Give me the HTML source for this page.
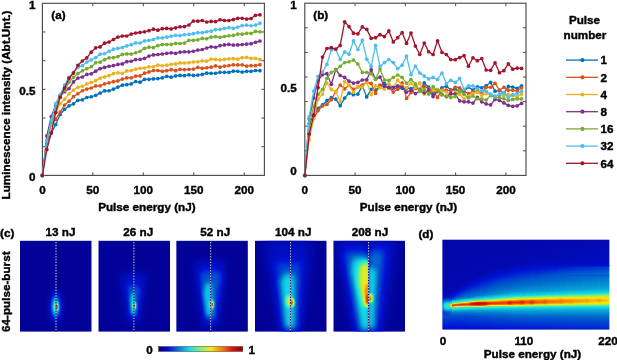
<!DOCTYPE html>
<html><head><meta charset="utf-8"><style>
html,body{margin:0;padding:0;background:#fff;}
svg text{font-family:"Liberation Sans", sans-serif;font-weight:bold;fill:#000;stroke:#000;stroke-width:0.4px;}
</style></head><body>
<svg width="617" height="360" viewBox="0 0 617 360" style="display:block;will-change:transform">
<defs>
<filter id="jet" x="0" y="0" width="1" height="1" color-interpolation-filters="sRGB">
<feComponentTransfer><feFuncR type="table" tableValues="0.01 0 0 0.08 0.5 0.96 0.98 0.88 0.55"/><feFuncG type="table" tableValues="0.01 0.08 0.43 0.88 0.94 0.92 0.5 0.08 0"/><feFuncB type="table" tableValues="0.6 0.84 0.8 0.9 0.47 0.04 0 0.06 0"/></feComponentTransfer>
</filter>
<filter id="bl0" x="-100%" y="-100%" width="300%" height="300%" color-interpolation-filters="sRGB"><feGaussianBlur stdDeviation="2.5"/></filter><filter id="bl1" x="-100%" y="-100%" width="300%" height="300%" color-interpolation-filters="sRGB"><feGaussianBlur stdDeviation="1.6"/></filter><filter id="bl2" x="-100%" y="-100%" width="300%" height="300%" color-interpolation-filters="sRGB"><feGaussianBlur stdDeviation="1"/></filter><filter id="bl3" x="-100%" y="-100%" width="300%" height="300%" color-interpolation-filters="sRGB"><feGaussianBlur stdDeviation="0.7"/></filter><filter id="bl4" x="-100%" y="-100%" width="300%" height="300%" color-interpolation-filters="sRGB"><feGaussianBlur stdDeviation="5"/></filter><filter id="bl5" x="-100%" y="-100%" width="300%" height="300%" color-interpolation-filters="sRGB"><feGaussianBlur stdDeviation="1.5"/></filter><filter id="bl6" x="-100%" y="-100%" width="300%" height="300%" color-interpolation-filters="sRGB"><feGaussianBlur stdDeviation="3"/></filter><filter id="bl7" x="-100%" y="-100%" width="300%" height="300%" color-interpolation-filters="sRGB"><feGaussianBlur stdDeviation="2"/></filter><filter id="bl8" x="-100%" y="-100%" width="300%" height="300%" color-interpolation-filters="sRGB"><feGaussianBlur stdDeviation="6"/></filter><filter id="bl9" x="-100%" y="-100%" width="300%" height="300%" color-interpolation-filters="sRGB"><feGaussianBlur stdDeviation="4.5"/></filter><filter id="bl10" x="-100%" y="-100%" width="300%" height="300%" color-interpolation-filters="sRGB"><feGaussianBlur stdDeviation="1.2"/></filter><filter id="bl11" x="-100%" y="-100%" width="300%" height="300%" color-interpolation-filters="sRGB"><feGaussianBlur stdDeviation="0.8"/></filter><filter id="bl12" x="-100%" y="-100%" width="300%" height="300%" color-interpolation-filters="sRGB"><feGaussianBlur stdDeviation="4"/></filter><filter id="bl13" x="-100%" y="-100%" width="300%" height="300%" color-interpolation-filters="sRGB"><feGaussianBlur stdDeviation="1.8"/></filter><filter id="bl14" x="-100%" y="-100%" width="300%" height="300%" color-interpolation-filters="sRGB"><feGaussianBlur stdDeviation="0.4"/></filter>
<linearGradient id="dg0" x1="0" y1="0" x2="0" y2="1"><stop offset="0.000" stop-color="rgb(8,8,8)"/><stop offset="0.593" stop-color="rgb(11,11,11)"/><stop offset="0.637" stop-color="rgb(22,22,22)"/><stop offset="0.703" stop-color="rgb(72,72,72)"/><stop offset="0.720" stop-color="rgb(80,80,80)"/><stop offset="0.736" stop-color="rgb(83,83,83)"/><stop offset="0.764" stop-color="rgb(75,75,75)"/><stop offset="0.802" stop-color="rgb(48,48,48)"/><stop offset="0.852" stop-color="rgb(51,51,51)"/><stop offset="1.000" stop-color="rgb(26,26,26)"/></linearGradient><linearGradient id="dg1" x1="0" y1="0" x2="0" y2="1"><stop offset="0.000" stop-color="rgb(8,8,8)"/><stop offset="0.593" stop-color="rgb(11,11,11)"/><stop offset="0.632" stop-color="rgb(22,22,22)"/><stop offset="0.654" stop-color="rgb(39,39,39)"/><stop offset="0.703" stop-color="rgb(84,84,84)"/><stop offset="0.720" stop-color="rgb(94,94,94)"/><stop offset="0.736" stop-color="rgb(98,98,98)"/><stop offset="0.764" stop-color="rgb(88,88,88)"/><stop offset="0.808" stop-color="rgb(49,49,49)"/><stop offset="0.852" stop-color="rgb(51,51,51)"/><stop offset="1.000" stop-color="rgb(26,26,26)"/></linearGradient><linearGradient id="dg2" x1="0" y1="0" x2="0" y2="1"><stop offset="0.000" stop-color="rgb(8,8,8)"/><stop offset="0.593" stop-color="rgb(11,11,11)"/><stop offset="0.621" stop-color="rgb(17,17,17)"/><stop offset="0.632" stop-color="rgb(24,24,24)"/><stop offset="0.654" stop-color="rgb(42,42,42)"/><stop offset="0.703" stop-color="rgb(91,91,91)"/><stop offset="0.720" stop-color="rgb(102,102,102)"/><stop offset="0.736" stop-color="rgb(106,106,106)"/><stop offset="0.764" stop-color="rgb(96,96,96)"/><stop offset="0.813" stop-color="rgb(48,48,48)"/><stop offset="0.852" stop-color="rgb(51,51,51)"/><stop offset="1.000" stop-color="rgb(26,26,26)"/></linearGradient><linearGradient id="dg3" x1="0" y1="0" x2="0" y2="1"><stop offset="0.000" stop-color="rgb(8,8,8)"/><stop offset="0.577" stop-color="rgb(11,11,11)"/><stop offset="0.632" stop-color="rgb(24,24,24)"/><stop offset="0.654" stop-color="rgb(42,42,42)"/><stop offset="0.703" stop-color="rgb(91,91,91)"/><stop offset="0.720" stop-color="rgb(102,102,102)"/><stop offset="0.736" stop-color="rgb(106,106,106)"/><stop offset="0.764" stop-color="rgb(96,96,96)"/><stop offset="0.808" stop-color="rgb(54,54,54)"/><stop offset="0.852" stop-color="rgb(51,51,51)"/><stop offset="1.000" stop-color="rgb(26,26,26)"/></linearGradient><linearGradient id="dg4" x1="0" y1="0" x2="0" y2="1"><stop offset="0.000" stop-color="rgb(8,8,8)"/><stop offset="0.560" stop-color="rgb(11,11,11)"/><stop offset="0.604" stop-color="rgb(20,20,20)"/><stop offset="0.654" stop-color="rgb(39,39,39)"/><stop offset="0.665" stop-color="rgb(49,49,49)"/><stop offset="0.687" stop-color="rgb(79,79,79)"/><stop offset="0.703" stop-color="rgb(93,93,93)"/><stop offset="0.709" stop-color="rgb(101,101,101)"/><stop offset="0.720" stop-color="rgb(148,148,148)"/><stop offset="0.731" stop-color="rgb(172,172,172)"/><stop offset="0.742" stop-color="rgb(155,155,155)"/><stop offset="0.753" stop-color="rgb(111,111,111)"/><stop offset="0.758" stop-color="rgb(95,95,95)"/><stop offset="0.802" stop-color="rgb(66,66,66)"/><stop offset="0.852" stop-color="rgb(51,51,51)"/><stop offset="1.000" stop-color="rgb(26,26,26)"/></linearGradient><linearGradient id="dg5" x1="0" y1="0" x2="0" y2="1"><stop offset="0.000" stop-color="rgb(8,8,8)"/><stop offset="0.549" stop-color="rgb(11,11,11)"/><stop offset="0.593" stop-color="rgb(20,20,20)"/><stop offset="0.648" stop-color="rgb(41,41,41)"/><stop offset="0.670" stop-color="rgb(69,69,69)"/><stop offset="0.687" stop-color="rgb(96,96,96)"/><stop offset="0.703" stop-color="rgb(113,113,113)"/><stop offset="0.709" stop-color="rgb(137,137,137)"/><stop offset="0.714" stop-color="rgb(169,169,169)"/><stop offset="0.720" stop-color="rgb(195,195,195)"/><stop offset="0.725" stop-color="rgb(209,209,209)"/><stop offset="0.731" stop-color="rgb(215,215,215)"/><stop offset="0.736" stop-color="rgb(201,201,201)"/><stop offset="0.742" stop-color="rgb(182,182,182)"/><stop offset="0.753" stop-color="rgb(118,118,118)"/><stop offset="0.775" stop-color="rgb(93,93,93)"/><stop offset="0.802" stop-color="rgb(71,71,71)"/><stop offset="0.852" stop-color="rgb(51,51,51)"/><stop offset="1.000" stop-color="rgb(26,26,26)"/></linearGradient><linearGradient id="dg6" x1="0" y1="0" x2="0" y2="1"><stop offset="0.000" stop-color="rgb(8,8,8)"/><stop offset="0.533" stop-color="rgb(11,11,11)"/><stop offset="0.582" stop-color="rgb(21,21,21)"/><stop offset="0.637" stop-color="rgb(43,43,43)"/><stop offset="0.665" stop-color="rgb(65,65,65)"/><stop offset="0.681" stop-color="rgb(92,92,92)"/><stop offset="0.698" stop-color="rgb(110,110,110)"/><stop offset="0.703" stop-color="rgb(120,120,120)"/><stop offset="0.714" stop-color="rgb(184,184,184)"/><stop offset="0.725" stop-color="rgb(216,216,216)"/><stop offset="0.731" stop-color="rgb(209,209,209)"/><stop offset="0.736" stop-color="rgb(195,195,195)"/><stop offset="0.747" stop-color="rgb(135,135,135)"/><stop offset="0.753" stop-color="rgb(113,113,113)"/><stop offset="0.797" stop-color="rgb(72,72,72)"/><stop offset="0.846" stop-color="rgb(52,52,52)"/><stop offset="1.000" stop-color="rgb(26,26,26)"/></linearGradient><linearGradient id="dg7" x1="0" y1="0" x2="0" y2="1"><stop offset="0.000" stop-color="rgb(8,8,8)"/><stop offset="0.522" stop-color="rgb(11,11,11)"/><stop offset="0.566" stop-color="rgb(20,20,20)"/><stop offset="0.621" stop-color="rgb(40,40,40)"/><stop offset="0.665" stop-color="rgb(71,71,71)"/><stop offset="0.681" stop-color="rgb(96,96,96)"/><stop offset="0.698" stop-color="rgb(113,113,113)"/><stop offset="0.703" stop-color="rgb(136,136,136)"/><stop offset="0.714" stop-color="rgb(194,194,194)"/><stop offset="0.725" stop-color="rgb(218,218,218)"/><stop offset="0.736" stop-color="rgb(189,189,189)"/><stop offset="0.747" stop-color="rgb(127,127,127)"/><stop offset="0.753" stop-color="rgb(112,112,112)"/><stop offset="0.797" stop-color="rgb(72,72,72)"/><stop offset="0.846" stop-color="rgb(51,51,51)"/><stop offset="1.000" stop-color="rgb(26,26,26)"/></linearGradient><linearGradient id="dg8" x1="0" y1="0" x2="0" y2="1"><stop offset="0.000" stop-color="rgb(8,8,8)"/><stop offset="0.505" stop-color="rgb(11,11,11)"/><stop offset="0.555" stop-color="rgb(21,21,21)"/><stop offset="0.610" stop-color="rgb(41,41,41)"/><stop offset="0.659" stop-color="rgb(68,68,68)"/><stop offset="0.698" stop-color="rgb(120,120,120)"/><stop offset="0.709" stop-color="rgb(177,177,177)"/><stop offset="0.714" stop-color="rgb(198,198,198)"/><stop offset="0.720" stop-color="rgb(211,211,211)"/><stop offset="0.725" stop-color="rgb(214,214,214)"/><stop offset="0.731" stop-color="rgb(201,201,201)"/><stop offset="0.736" stop-color="rgb(182,182,182)"/><stop offset="0.747" stop-color="rgb(121,121,121)"/><stop offset="0.753" stop-color="rgb(111,111,111)"/><stop offset="0.769" stop-color="rgb(93,93,93)"/><stop offset="0.797" stop-color="rgb(71,71,71)"/><stop offset="0.846" stop-color="rgb(52,52,52)"/><stop offset="1.000" stop-color="rgb(26,26,26)"/></linearGradient><linearGradient id="dg9" x1="0" y1="0" x2="0" y2="1"><stop offset="0.000" stop-color="rgb(8,8,8)"/><stop offset="0.495" stop-color="rgb(11,11,11)"/><stop offset="0.544" stop-color="rgb(22,22,22)"/><stop offset="0.599" stop-color="rgb(41,41,41)"/><stop offset="0.654" stop-color="rgb(66,66,66)"/><stop offset="0.692" stop-color="rgb(114,114,114)"/><stop offset="0.698" stop-color="rgb(132,132,132)"/><stop offset="0.709" stop-color="rgb(186,186,186)"/><stop offset="0.720" stop-color="rgb(215,215,215)"/><stop offset="0.725" stop-color="rgb(210,210,210)"/><stop offset="0.731" stop-color="rgb(198,198,198)"/><stop offset="0.736" stop-color="rgb(175,175,175)"/><stop offset="0.747" stop-color="rgb(117,117,117)"/><stop offset="0.769" stop-color="rgb(92,92,92)"/><stop offset="0.791" stop-color="rgb(75,75,75)"/><stop offset="0.846" stop-color="rgb(52,52,52)"/><stop offset="1.000" stop-color="rgb(26,26,26)"/></linearGradient><linearGradient id="dg10" x1="0" y1="0" x2="0" y2="1"><stop offset="0.000" stop-color="rgb(8,8,8)"/><stop offset="0.478" stop-color="rgb(11,11,11)"/><stop offset="0.533" stop-color="rgb(22,22,22)"/><stop offset="0.593" stop-color="rgb(43,43,43)"/><stop offset="0.654" stop-color="rgb(70,70,70)"/><stop offset="0.692" stop-color="rgb(117,117,117)"/><stop offset="0.709" stop-color="rgb(193,193,193)"/><stop offset="0.720" stop-color="rgb(218,218,218)"/><stop offset="0.731" stop-color="rgb(195,195,195)"/><stop offset="0.747" stop-color="rgb(116,116,116)"/><stop offset="0.764" stop-color="rgb(97,97,97)"/><stop offset="0.791" stop-color="rgb(74,74,74)"/><stop offset="0.846" stop-color="rgb(52,52,52)"/><stop offset="1.000" stop-color="rgb(26,26,26)"/></linearGradient><linearGradient id="dg11" x1="0" y1="0" x2="0" y2="1"><stop offset="0.000" stop-color="rgb(8,8,8)"/><stop offset="0.467" stop-color="rgb(11,11,11)"/><stop offset="0.522" stop-color="rgb(22,22,22)"/><stop offset="0.648" stop-color="rgb(67,67,67)"/><stop offset="0.687" stop-color="rgb(114,114,114)"/><stop offset="0.692" stop-color="rgb(127,127,127)"/><stop offset="0.709" stop-color="rgb(196,196,196)"/><stop offset="0.720" stop-color="rgb(217,217,217)"/><stop offset="0.731" stop-color="rgb(193,193,193)"/><stop offset="0.742" stop-color="rgb(138,138,138)"/><stop offset="0.747" stop-color="rgb(115,115,115)"/><stop offset="0.764" stop-color="rgb(96,96,96)"/><stop offset="0.791" stop-color="rgb(74,74,74)"/><stop offset="0.846" stop-color="rgb(52,52,52)"/><stop offset="1.000" stop-color="rgb(26,26,26)"/></linearGradient><linearGradient id="dg12" x1="0" y1="0" x2="0" y2="1"><stop offset="0.000" stop-color="rgb(8,8,8)"/><stop offset="0.456" stop-color="rgb(11,11,11)"/><stop offset="0.511" stop-color="rgb(22,22,22)"/><stop offset="0.648" stop-color="rgb(71,71,71)"/><stop offset="0.687" stop-color="rgb(117,117,117)"/><stop offset="0.692" stop-color="rgb(135,135,135)"/><stop offset="0.703" stop-color="rgb(183,183,183)"/><stop offset="0.709" stop-color="rgb(199,199,199)"/><stop offset="0.714" stop-color="rgb(211,211,211)"/><stop offset="0.720" stop-color="rgb(215,215,215)"/><stop offset="0.731" stop-color="rgb(190,190,190)"/><stop offset="0.742" stop-color="rgb(135,135,135)"/><stop offset="0.747" stop-color="rgb(115,115,115)"/><stop offset="0.764" stop-color="rgb(95,95,95)"/><stop offset="0.791" stop-color="rgb(74,74,74)"/><stop offset="0.846" stop-color="rgb(52,52,52)"/><stop offset="1.000" stop-color="rgb(26,26,26)"/></linearGradient><linearGradient id="dg13" x1="0" y1="0" x2="0" y2="1"><stop offset="0.000" stop-color="rgb(8,8,8)"/><stop offset="0.445" stop-color="rgb(11,11,11)"/><stop offset="0.500" stop-color="rgb(22,22,22)"/><stop offset="0.643" stop-color="rgb(68,68,68)"/><stop offset="0.687" stop-color="rgb(121,121,121)"/><stop offset="0.703" stop-color="rgb(189,189,189)"/><stop offset="0.714" stop-color="rgb(214,214,214)"/><stop offset="0.720" stop-color="rgb(213,213,213)"/><stop offset="0.731" stop-color="rgb(186,186,186)"/><stop offset="0.742" stop-color="rgb(132,132,132)"/><stop offset="0.747" stop-color="rgb(115,115,115)"/><stop offset="0.764" stop-color="rgb(94,94,94)"/><stop offset="0.791" stop-color="rgb(74,74,74)"/><stop offset="0.852" stop-color="rgb(51,51,51)"/><stop offset="1.000" stop-color="rgb(27,27,27)"/></linearGradient><linearGradient id="dg14" x1="0" y1="0" x2="0" y2="1"><stop offset="0.000" stop-color="rgb(8,8,8)"/><stop offset="0.434" stop-color="rgb(11,11,11)"/><stop offset="0.495" stop-color="rgb(24,24,24)"/><stop offset="0.643" stop-color="rgb(72,72,72)"/><stop offset="0.681" stop-color="rgb(116,116,116)"/><stop offset="0.687" stop-color="rgb(129,129,129)"/><stop offset="0.703" stop-color="rgb(194,194,194)"/><stop offset="0.714" stop-color="rgb(216,216,216)"/><stop offset="0.720" stop-color="rgb(211,211,211)"/><stop offset="0.725" stop-color="rgb(200,200,200)"/><stop offset="0.731" stop-color="rgb(182,182,182)"/><stop offset="0.742" stop-color="rgb(130,130,130)"/><stop offset="0.747" stop-color="rgb(114,114,114)"/><stop offset="0.764" stop-color="rgb(94,94,94)"/><stop offset="0.791" stop-color="rgb(74,74,74)"/><stop offset="0.852" stop-color="rgb(52,52,52)"/><stop offset="1.000" stop-color="rgb(27,27,27)"/></linearGradient><linearGradient id="dg15" x1="0" y1="0" x2="0" y2="1"><stop offset="0.000" stop-color="rgb(8,8,8)"/><stop offset="0.423" stop-color="rgb(11,11,11)"/><stop offset="0.484" stop-color="rgb(24,24,24)"/><stop offset="0.637" stop-color="rgb(69,69,69)"/><stop offset="0.665" stop-color="rgb(97,97,97)"/><stop offset="0.681" stop-color="rgb(119,119,119)"/><stop offset="0.703" stop-color="rgb(196,196,196)"/><stop offset="0.714" stop-color="rgb(218,218,218)"/><stop offset="0.725" stop-color="rgb(198,198,198)"/><stop offset="0.731" stop-color="rgb(179,179,179)"/><stop offset="0.742" stop-color="rgb(129,129,129)"/><stop offset="0.747" stop-color="rgb(114,114,114)"/><stop offset="0.764" stop-color="rgb(93,93,93)"/><stop offset="0.791" stop-color="rgb(74,74,74)"/><stop offset="0.852" stop-color="rgb(52,52,52)"/><stop offset="1.000" stop-color="rgb(27,27,27)"/></linearGradient><linearGradient id="dg16" x1="0" y1="0" x2="0" y2="1"><stop offset="0.000" stop-color="rgb(8,8,8)"/><stop offset="0.418" stop-color="rgb(12,12,12)"/><stop offset="0.473" stop-color="rgb(23,23,23)"/><stop offset="0.632" stop-color="rgb(68,68,68)"/><stop offset="0.659" stop-color="rgb(93,93,93)"/><stop offset="0.681" stop-color="rgb(124,124,124)"/><stop offset="0.698" stop-color="rgb(183,183,183)"/><stop offset="0.703" stop-color="rgb(199,199,199)"/><stop offset="0.714" stop-color="rgb(218,218,218)"/><stop offset="0.725" stop-color="rgb(197,197,197)"/><stop offset="0.742" stop-color="rgb(127,127,127)"/><stop offset="0.747" stop-color="rgb(114,114,114)"/><stop offset="0.764" stop-color="rgb(93,93,93)"/><stop offset="0.786" stop-color="rgb(77,77,77)"/><stop offset="0.852" stop-color="rgb(52,52,52)"/><stop offset="1.000" stop-color="rgb(27,27,27)"/></linearGradient><linearGradient id="dg17" x1="0" y1="0" x2="0" y2="1"><stop offset="0.000" stop-color="rgb(8,8,8)"/><stop offset="0.407" stop-color="rgb(11,11,11)"/><stop offset="0.467" stop-color="rgb(24,24,24)"/><stop offset="0.626" stop-color="rgb(68,68,68)"/><stop offset="0.659" stop-color="rgb(95,95,95)"/><stop offset="0.676" stop-color="rgb(117,117,117)"/><stop offset="0.681" stop-color="rgb(130,130,130)"/><stop offset="0.698" stop-color="rgb(188,188,188)"/><stop offset="0.709" stop-color="rgb(211,211,211)"/><stop offset="0.714" stop-color="rgb(216,216,216)"/><stop offset="0.725" stop-color="rgb(196,196,196)"/><stop offset="0.742" stop-color="rgb(126,126,126)"/><stop offset="0.747" stop-color="rgb(114,114,114)"/><stop offset="0.764" stop-color="rgb(92,92,92)"/><stop offset="0.786" stop-color="rgb(77,77,77)"/><stop offset="0.852" stop-color="rgb(52,52,52)"/><stop offset="1.000" stop-color="rgb(27,27,27)"/></linearGradient><linearGradient id="dg18" x1="0" y1="0" x2="0" y2="1"><stop offset="0.000" stop-color="rgb(8,8,8)"/><stop offset="0.396" stop-color="rgb(11,11,11)"/><stop offset="0.456" stop-color="rgb(24,24,24)"/><stop offset="0.626" stop-color="rgb(69,69,69)"/><stop offset="0.654" stop-color="rgb(91,91,91)"/><stop offset="0.676" stop-color="rgb(120,120,120)"/><stop offset="0.687" stop-color="rgb(154,154,154)"/><stop offset="0.698" stop-color="rgb(192,192,192)"/><stop offset="0.709" stop-color="rgb(213,213,213)"/><stop offset="0.714" stop-color="rgb(214,214,214)"/><stop offset="0.725" stop-color="rgb(195,195,195)"/><stop offset="0.742" stop-color="rgb(125,125,125)"/><stop offset="0.747" stop-color="rgb(113,113,113)"/><stop offset="0.764" stop-color="rgb(92,92,92)"/><stop offset="0.786" stop-color="rgb(77,77,77)"/><stop offset="0.852" stop-color="rgb(53,53,53)"/><stop offset="1.000" stop-color="rgb(27,27,27)"/></linearGradient><linearGradient id="dg19" x1="0" y1="0" x2="0" y2="1"><stop offset="0.000" stop-color="rgb(8,8,8)"/><stop offset="0.390" stop-color="rgb(12,12,12)"/><stop offset="0.621" stop-color="rgb(69,69,69)"/><stop offset="0.654" stop-color="rgb(93,93,93)"/><stop offset="0.670" stop-color="rgb(116,116,116)"/><stop offset="0.676" stop-color="rgb(125,125,125)"/><stop offset="0.698" stop-color="rgb(195,195,195)"/><stop offset="0.709" stop-color="rgb(214,214,214)"/><stop offset="0.714" stop-color="rgb(213,213,213)"/><stop offset="0.725" stop-color="rgb(193,193,193)"/><stop offset="0.742" stop-color="rgb(124,124,124)"/><stop offset="0.747" stop-color="rgb(113,113,113)"/><stop offset="0.758" stop-color="rgb(97,97,97)"/><stop offset="0.786" stop-color="rgb(77,77,77)"/><stop offset="0.852" stop-color="rgb(53,53,53)"/><stop offset="1.000" stop-color="rgb(28,28,28)"/></linearGradient><linearGradient id="dg20" x1="0" y1="0" x2="0" y2="1"><stop offset="0.000" stop-color="rgb(8,8,8)"/><stop offset="0.379" stop-color="rgb(11,11,11)"/><stop offset="0.621" stop-color="rgb(69,69,69)"/><stop offset="0.654" stop-color="rgb(94,94,94)"/><stop offset="0.670" stop-color="rgb(119,119,119)"/><stop offset="0.676" stop-color="rgb(131,131,131)"/><stop offset="0.698" stop-color="rgb(197,197,197)"/><stop offset="0.709" stop-color="rgb(216,216,216)"/><stop offset="0.714" stop-color="rgb(211,211,211)"/><stop offset="0.725" stop-color="rgb(190,190,190)"/><stop offset="0.742" stop-color="rgb(123,123,123)"/><stop offset="0.747" stop-color="rgb(113,113,113)"/><stop offset="0.758" stop-color="rgb(96,96,96)"/><stop offset="0.786" stop-color="rgb(77,77,77)"/><stop offset="0.852" stop-color="rgb(53,53,53)"/><stop offset="1.000" stop-color="rgb(28,28,28)"/></linearGradient><linearGradient id="dg21" x1="0" y1="0" x2="0" y2="1"><stop offset="0.000" stop-color="rgb(8,8,8)"/><stop offset="0.374" stop-color="rgb(12,12,12)"/><stop offset="0.615" stop-color="rgb(69,69,69)"/><stop offset="0.648" stop-color="rgb(92,92,92)"/><stop offset="0.670" stop-color="rgb(122,122,122)"/><stop offset="0.692" stop-color="rgb(186,186,186)"/><stop offset="0.698" stop-color="rgb(199,199,199)"/><stop offset="0.709" stop-color="rgb(217,217,217)"/><stop offset="0.720" stop-color="rgb(201,201,201)"/><stop offset="0.725" stop-color="rgb(188,188,188)"/><stop offset="0.742" stop-color="rgb(123,123,123)"/><stop offset="0.758" stop-color="rgb(95,95,95)"/><stop offset="0.764" stop-color="rgb(91,91,91)"/><stop offset="0.791" stop-color="rgb(74,74,74)"/><stop offset="0.852" stop-color="rgb(54,54,54)"/><stop offset="1.000" stop-color="rgb(28,28,28)"/></linearGradient><linearGradient id="dg22" x1="0" y1="0" x2="0" y2="1"><stop offset="0.000" stop-color="rgb(8,8,8)"/><stop offset="0.363" stop-color="rgb(11,11,11)"/><stop offset="0.615" stop-color="rgb(70,70,70)"/><stop offset="0.648" stop-color="rgb(93,93,93)"/><stop offset="0.665" stop-color="rgb(117,117,117)"/><stop offset="0.670" stop-color="rgb(126,126,126)"/><stop offset="0.692" stop-color="rgb(189,189,189)"/><stop offset="0.709" stop-color="rgb(218,218,218)"/><stop offset="0.720" stop-color="rgb(200,200,200)"/><stop offset="0.725" stop-color="rgb(186,186,186)"/><stop offset="0.742" stop-color="rgb(122,122,122)"/><stop offset="0.758" stop-color="rgb(94,94,94)"/><stop offset="0.791" stop-color="rgb(74,74,74)"/><stop offset="0.852" stop-color="rgb(54,54,54)"/><stop offset="1.000" stop-color="rgb(28,28,28)"/></linearGradient><linearGradient id="dg23" x1="0" y1="0" x2="0" y2="1"><stop offset="0.000" stop-color="rgb(8,8,8)"/><stop offset="0.357" stop-color="rgb(12,12,12)"/><stop offset="0.610" stop-color="rgb(70,70,70)"/><stop offset="0.648" stop-color="rgb(94,94,94)"/><stop offset="0.670" stop-color="rgb(131,131,131)"/><stop offset="0.692" stop-color="rgb(193,193,193)"/><stop offset="0.709" stop-color="rgb(216,216,216)"/><stop offset="0.720" stop-color="rgb(200,200,200)"/><stop offset="0.725" stop-color="rgb(184,184,184)"/><stop offset="0.731" stop-color="rgb(160,160,160)"/><stop offset="0.742" stop-color="rgb(122,122,122)"/><stop offset="0.758" stop-color="rgb(94,94,94)"/><stop offset="0.791" stop-color="rgb(75,75,75)"/><stop offset="0.852" stop-color="rgb(54,54,54)"/><stop offset="1.000" stop-color="rgb(28,28,28)"/></linearGradient><linearGradient id="dg24" x1="0" y1="0" x2="0" y2="1"><stop offset="0.000" stop-color="rgb(8,8,8)"/><stop offset="0.346" stop-color="rgb(11,11,11)"/><stop offset="0.495" stop-color="rgb(47,47,47)"/><stop offset="0.610" stop-color="rgb(70,70,70)"/><stop offset="0.648" stop-color="rgb(96,96,96)"/><stop offset="0.665" stop-color="rgb(123,123,123)"/><stop offset="0.676" stop-color="rgb(149,149,149)"/><stop offset="0.692" stop-color="rgb(196,196,196)"/><stop offset="0.703" stop-color="rgb(212,212,212)"/><stop offset="0.709" stop-color="rgb(215,215,215)"/><stop offset="0.720" stop-color="rgb(199,199,199)"/><stop offset="0.742" stop-color="rgb(122,122,122)"/><stop offset="0.758" stop-color="rgb(94,94,94)"/><stop offset="0.791" stop-color="rgb(75,75,75)"/><stop offset="0.852" stop-color="rgb(55,55,55)"/><stop offset="1.000" stop-color="rgb(28,28,28)"/></linearGradient><linearGradient id="dg25" x1="0" y1="0" x2="0" y2="1"><stop offset="0.000" stop-color="rgb(8,8,8)"/><stop offset="0.341" stop-color="rgb(11,11,11)"/><stop offset="0.489" stop-color="rgb(47,47,47)"/><stop offset="0.604" stop-color="rgb(70,70,70)"/><stop offset="0.643" stop-color="rgb(93,93,93)"/><stop offset="0.648" stop-color="rgb(99,99,99)"/><stop offset="0.665" stop-color="rgb(126,126,126)"/><stop offset="0.692" stop-color="rgb(197,197,197)"/><stop offset="0.703" stop-color="rgb(213,213,213)"/><stop offset="0.709" stop-color="rgb(214,214,214)"/><stop offset="0.720" stop-color="rgb(198,198,198)"/><stop offset="0.731" stop-color="rgb(157,157,157)"/><stop offset="0.742" stop-color="rgb(122,122,122)"/><stop offset="0.758" stop-color="rgb(94,94,94)"/><stop offset="0.791" stop-color="rgb(75,75,75)"/><stop offset="0.852" stop-color="rgb(55,55,55)"/><stop offset="1.000" stop-color="rgb(29,29,29)"/></linearGradient><linearGradient id="dg26" x1="0" y1="0" x2="0" y2="1"><stop offset="0.000" stop-color="rgb(8,8,8)"/><stop offset="0.335" stop-color="rgb(12,12,12)"/><stop offset="0.484" stop-color="rgb(48,48,48)"/><stop offset="0.604" stop-color="rgb(71,71,71)"/><stop offset="0.643" stop-color="rgb(94,94,94)"/><stop offset="0.665" stop-color="rgb(131,131,131)"/><stop offset="0.692" stop-color="rgb(199,199,199)"/><stop offset="0.703" stop-color="rgb(214,214,214)"/><stop offset="0.709" stop-color="rgb(213,213,213)"/><stop offset="0.720" stop-color="rgb(198,198,198)"/><stop offset="0.731" stop-color="rgb(157,157,157)"/><stop offset="0.742" stop-color="rgb(122,122,122)"/><stop offset="0.758" stop-color="rgb(93,93,93)"/><stop offset="0.791" stop-color="rgb(75,75,75)"/><stop offset="0.857" stop-color="rgb(54,54,54)"/><stop offset="1.000" stop-color="rgb(29,29,29)"/></linearGradient><linearGradient id="dg27" x1="0" y1="0" x2="0" y2="1"><stop offset="0.000" stop-color="rgb(8,8,8)"/><stop offset="0.330" stop-color="rgb(12,12,12)"/><stop offset="0.478" stop-color="rgb(48,48,48)"/><stop offset="0.604" stop-color="rgb(72,72,72)"/><stop offset="0.643" stop-color="rgb(96,96,96)"/><stop offset="0.665" stop-color="rgb(135,135,135)"/><stop offset="0.692" stop-color="rgb(200,200,200)"/><stop offset="0.703" stop-color="rgb(215,215,215)"/><stop offset="0.709" stop-color="rgb(212,212,212)"/><stop offset="0.720" stop-color="rgb(197,197,197)"/><stop offset="0.731" stop-color="rgb(156,156,156)"/><stop offset="0.742" stop-color="rgb(122,122,122)"/><stop offset="0.758" stop-color="rgb(93,93,93)"/><stop offset="0.791" stop-color="rgb(75,75,75)"/><stop offset="0.857" stop-color="rgb(54,54,54)"/><stop offset="1.000" stop-color="rgb(29,29,29)"/></linearGradient><linearGradient id="dg28" x1="0" y1="0" x2="0" y2="1"><stop offset="0.000" stop-color="rgb(8,8,8)"/><stop offset="0.319" stop-color="rgb(11,11,11)"/><stop offset="0.478" stop-color="rgb(49,49,49)"/><stop offset="0.599" stop-color="rgb(71,71,71)"/><stop offset="0.643" stop-color="rgb(98,98,98)"/><stop offset="0.665" stop-color="rgb(139,139,139)"/><stop offset="0.687" stop-color="rgb(192,192,192)"/><stop offset="0.703" stop-color="rgb(216,216,216)"/><stop offset="0.720" stop-color="rgb(197,197,197)"/><stop offset="0.731" stop-color="rgb(155,155,155)"/><stop offset="0.742" stop-color="rgb(122,122,122)"/><stop offset="0.758" stop-color="rgb(93,93,93)"/><stop offset="0.791" stop-color="rgb(76,76,76)"/><stop offset="0.857" stop-color="rgb(55,55,55)"/><stop offset="1.000" stop-color="rgb(29,29,29)"/></linearGradient><linearGradient id="dg29" x1="0" y1="0" x2="0" y2="1"><stop offset="0.000" stop-color="rgb(8,8,8)"/><stop offset="0.313" stop-color="rgb(11,11,11)"/><stop offset="0.473" stop-color="rgb(49,49,49)"/><stop offset="0.599" stop-color="rgb(73,73,73)"/><stop offset="0.637" stop-color="rgb(93,93,93)"/><stop offset="0.659" stop-color="rgb(131,131,131)"/><stop offset="0.670" stop-color="rgb(154,154,154)"/><stop offset="0.687" stop-color="rgb(195,195,195)"/><stop offset="0.703" stop-color="rgb(217,217,217)"/><stop offset="0.720" stop-color="rgb(195,195,195)"/><stop offset="0.731" stop-color="rgb(154,154,154)"/><stop offset="0.742" stop-color="rgb(122,122,122)"/><stop offset="0.753" stop-color="rgb(100,100,100)"/><stop offset="0.758" stop-color="rgb(93,93,93)"/><stop offset="0.786" stop-color="rgb(78,78,78)"/><stop offset="0.857" stop-color="rgb(55,55,55)"/><stop offset="1.000" stop-color="rgb(29,29,29)"/></linearGradient><linearGradient id="dg30" x1="0" y1="0" x2="0" y2="1"><stop offset="0.000" stop-color="rgb(8,8,8)"/><stop offset="0.308" stop-color="rgb(11,11,11)"/><stop offset="0.467" stop-color="rgb(49,49,49)"/><stop offset="0.593" stop-color="rgb(72,72,72)"/><stop offset="0.637" stop-color="rgb(94,94,94)"/><stop offset="0.670" stop-color="rgb(157,157,157)"/><stop offset="0.687" stop-color="rgb(197,197,197)"/><stop offset="0.703" stop-color="rgb(217,217,217)"/><stop offset="0.720" stop-color="rgb(194,194,194)"/><stop offset="0.731" stop-color="rgb(154,154,154)"/><stop offset="0.742" stop-color="rgb(122,122,122)"/><stop offset="0.753" stop-color="rgb(100,100,100)"/><stop offset="0.758" stop-color="rgb(93,93,93)"/><stop offset="0.786" stop-color="rgb(78,78,78)"/><stop offset="0.857" stop-color="rgb(55,55,55)"/><stop offset="1.000" stop-color="rgb(29,29,29)"/></linearGradient><linearGradient id="dg31" x1="0" y1="0" x2="0" y2="1"><stop offset="0.000" stop-color="rgb(8,8,8)"/><stop offset="0.302" stop-color="rgb(11,11,11)"/><stop offset="0.467" stop-color="rgb(50,50,50)"/><stop offset="0.593" stop-color="rgb(73,73,73)"/><stop offset="0.637" stop-color="rgb(97,97,97)"/><stop offset="0.670" stop-color="rgb(159,159,159)"/><stop offset="0.687" stop-color="rgb(199,199,199)"/><stop offset="0.703" stop-color="rgb(216,216,216)"/><stop offset="0.720" stop-color="rgb(192,192,192)"/><stop offset="0.731" stop-color="rgb(153,153,153)"/><stop offset="0.742" stop-color="rgb(122,122,122)"/><stop offset="0.753" stop-color="rgb(99,99,99)"/><stop offset="0.758" stop-color="rgb(93,93,93)"/><stop offset="0.786" stop-color="rgb(78,78,78)"/><stop offset="0.857" stop-color="rgb(56,56,56)"/><stop offset="1.000" stop-color="rgb(30,30,30)"/></linearGradient><linearGradient id="dg32" x1="0" y1="0" x2="0" y2="1"><stop offset="0.000" stop-color="rgb(8,8,8)"/><stop offset="0.297" stop-color="rgb(11,11,11)"/><stop offset="0.462" stop-color="rgb(49,49,49)"/><stop offset="0.588" stop-color="rgb(72,72,72)"/><stop offset="0.632" stop-color="rgb(93,93,93)"/><stop offset="0.637" stop-color="rgb(100,100,100)"/><stop offset="0.665" stop-color="rgb(152,152,152)"/><stop offset="0.687" stop-color="rgb(200,200,200)"/><stop offset="0.698" stop-color="rgb(213,213,213)"/><stop offset="0.703" stop-color="rgb(215,215,215)"/><stop offset="0.714" stop-color="rgb(202,202,202)"/><stop offset="0.720" stop-color="rgb(191,191,191)"/><stop offset="0.731" stop-color="rgb(152,152,152)"/><stop offset="0.742" stop-color="rgb(123,123,123)"/><stop offset="0.753" stop-color="rgb(99,99,99)"/><stop offset="0.758" stop-color="rgb(93,93,93)"/><stop offset="0.786" stop-color="rgb(78,78,78)"/><stop offset="0.857" stop-color="rgb(56,56,56)"/><stop offset="1.000" stop-color="rgb(30,30,30)"/></linearGradient><linearGradient id="dg33" x1="0" y1="0" x2="0" y2="1"><stop offset="0.000" stop-color="rgb(8,8,8)"/><stop offset="0.291" stop-color="rgb(11,11,11)"/><stop offset="0.456" stop-color="rgb(49,49,49)"/><stop offset="0.588" stop-color="rgb(73,73,73)"/><stop offset="0.632" stop-color="rgb(94,94,94)"/><stop offset="0.665" stop-color="rgb(154,154,154)"/><stop offset="0.687" stop-color="rgb(201,201,201)"/><stop offset="0.698" stop-color="rgb(214,214,214)"/><stop offset="0.703" stop-color="rgb(214,214,214)"/><stop offset="0.714" stop-color="rgb(202,202,202)"/><stop offset="0.720" stop-color="rgb(190,190,190)"/><stop offset="0.731" stop-color="rgb(152,152,152)"/><stop offset="0.742" stop-color="rgb(123,123,123)"/><stop offset="0.753" stop-color="rgb(98,98,98)"/><stop offset="0.758" stop-color="rgb(92,92,92)"/><stop offset="0.786" stop-color="rgb(79,79,79)"/><stop offset="0.857" stop-color="rgb(56,56,56)"/><stop offset="1.000" stop-color="rgb(30,30,30)"/></linearGradient><linearGradient id="dg34" x1="0" y1="0" x2="0" y2="1"><stop offset="0.000" stop-color="rgb(8,8,8)"/><stop offset="0.286" stop-color="rgb(11,11,11)"/><stop offset="0.456" stop-color="rgb(50,50,50)"/><stop offset="0.582" stop-color="rgb(73,73,73)"/><stop offset="0.632" stop-color="rgb(96,96,96)"/><stop offset="0.665" stop-color="rgb(157,157,157)"/><stop offset="0.681" stop-color="rgb(194,194,194)"/><stop offset="0.698" stop-color="rgb(214,214,214)"/><stop offset="0.703" stop-color="rgb(213,213,213)"/><stop offset="0.714" stop-color="rgb(201,201,201)"/><stop offset="0.720" stop-color="rgb(188,188,188)"/><stop offset="0.731" stop-color="rgb(152,152,152)"/><stop offset="0.742" stop-color="rgb(123,123,123)"/><stop offset="0.753" stop-color="rgb(97,97,97)"/><stop offset="0.758" stop-color="rgb(92,92,92)"/><stop offset="0.786" stop-color="rgb(79,79,79)"/><stop offset="0.863" stop-color="rgb(55,55,55)"/><stop offset="1.000" stop-color="rgb(30,30,30)"/></linearGradient><linearGradient id="dg35" x1="0" y1="0" x2="0" y2="1"><stop offset="0.000" stop-color="rgb(8,8,8)"/><stop offset="0.280" stop-color="rgb(11,11,11)"/><stop offset="0.451" stop-color="rgb(50,50,50)"/><stop offset="0.582" stop-color="rgb(74,74,74)"/><stop offset="0.626" stop-color="rgb(93,93,93)"/><stop offset="0.632" stop-color="rgb(99,99,99)"/><stop offset="0.665" stop-color="rgb(159,159,159)"/><stop offset="0.681" stop-color="rgb(196,196,196)"/><stop offset="0.698" stop-color="rgb(215,215,215)"/><stop offset="0.714" stop-color="rgb(201,201,201)"/><stop offset="0.720" stop-color="rgb(187,187,187)"/><stop offset="0.731" stop-color="rgb(151,151,151)"/><stop offset="0.742" stop-color="rgb(123,123,123)"/><stop offset="0.753" stop-color="rgb(97,97,97)"/><stop offset="0.758" stop-color="rgb(92,92,92)"/><stop offset="0.786" stop-color="rgb(79,79,79)"/><stop offset="0.863" stop-color="rgb(56,56,56)"/><stop offset="1.000" stop-color="rgb(30,30,30)"/></linearGradient><linearGradient id="dg36" x1="0" y1="0" x2="0" y2="1"><stop offset="0.000" stop-color="rgb(8,8,8)"/><stop offset="0.275" stop-color="rgb(11,11,11)"/><stop offset="0.451" stop-color="rgb(51,51,51)"/><stop offset="0.577" stop-color="rgb(73,73,73)"/><stop offset="0.626" stop-color="rgb(94,94,94)"/><stop offset="0.665" stop-color="rgb(162,162,162)"/><stop offset="0.681" stop-color="rgb(198,198,198)"/><stop offset="0.698" stop-color="rgb(216,216,216)"/><stop offset="0.714" stop-color="rgb(201,201,201)"/><stop offset="0.731" stop-color="rgb(151,151,151)"/><stop offset="0.742" stop-color="rgb(123,123,123)"/><stop offset="0.753" stop-color="rgb(96,96,96)"/><stop offset="0.758" stop-color="rgb(92,92,92)"/><stop offset="0.786" stop-color="rgb(79,79,79)"/><stop offset="0.863" stop-color="rgb(56,56,56)"/><stop offset="1.000" stop-color="rgb(30,30,30)"/></linearGradient><linearGradient id="dg37" x1="0" y1="0" x2="0" y2="1"><stop offset="0.000" stop-color="rgb(8,8,8)"/><stop offset="0.275" stop-color="rgb(12,12,12)"/><stop offset="0.445" stop-color="rgb(50,50,50)"/><stop offset="0.577" stop-color="rgb(74,74,74)"/><stop offset="0.626" stop-color="rgb(94,94,94)"/><stop offset="0.643" stop-color="rgb(127,127,127)"/><stop offset="0.665" stop-color="rgb(165,165,165)"/><stop offset="0.681" stop-color="rgb(199,199,199)"/><stop offset="0.698" stop-color="rgb(216,216,216)"/><stop offset="0.714" stop-color="rgb(200,200,200)"/><stop offset="0.731" stop-color="rgb(151,151,151)"/><stop offset="0.753" stop-color="rgb(96,96,96)"/><stop offset="0.758" stop-color="rgb(92,92,92)"/><stop offset="0.786" stop-color="rgb(79,79,79)"/><stop offset="0.863" stop-color="rgb(56,56,56)"/><stop offset="1.000" stop-color="rgb(31,31,31)"/></linearGradient><linearGradient id="dg38" x1="0" y1="0" x2="0" y2="1"><stop offset="0.000" stop-color="rgb(8,8,8)"/><stop offset="0.269" stop-color="rgb(12,12,12)"/><stop offset="0.445" stop-color="rgb(51,51,51)"/><stop offset="0.577" stop-color="rgb(74,74,74)"/><stop offset="0.626" stop-color="rgb(95,95,95)"/><stop offset="0.681" stop-color="rgb(199,199,199)"/><stop offset="0.698" stop-color="rgb(215,215,215)"/><stop offset="0.714" stop-color="rgb(199,199,199)"/><stop offset="0.725" stop-color="rgb(164,164,164)"/><stop offset="0.753" stop-color="rgb(95,95,95)"/><stop offset="0.786" stop-color="rgb(79,79,79)"/><stop offset="0.863" stop-color="rgb(56,56,56)"/><stop offset="1.000" stop-color="rgb(31,31,31)"/></linearGradient><linearGradient id="dg39" x1="0" y1="0" x2="0" y2="1"><stop offset="0.000" stop-color="rgb(8,8,8)"/><stop offset="0.269" stop-color="rgb(12,12,12)"/><stop offset="0.440" stop-color="rgb(51,51,51)"/><stop offset="0.577" stop-color="rgb(75,75,75)"/><stop offset="0.626" stop-color="rgb(97,97,97)"/><stop offset="0.643" stop-color="rgb(130,130,130)"/><stop offset="0.659" stop-color="rgb(157,157,157)"/><stop offset="0.681" stop-color="rgb(199,199,199)"/><stop offset="0.698" stop-color="rgb(214,214,214)"/><stop offset="0.714" stop-color="rgb(197,197,197)"/><stop offset="0.725" stop-color="rgb(163,163,163)"/><stop offset="0.753" stop-color="rgb(94,94,94)"/><stop offset="0.786" stop-color="rgb(79,79,79)"/><stop offset="0.863" stop-color="rgb(56,56,56)"/><stop offset="1.000" stop-color="rgb(31,31,31)"/></linearGradient><linearGradient id="dg40" x1="0" y1="0" x2="0" y2="1"><stop offset="0.000" stop-color="rgb(8,8,8)"/><stop offset="0.269" stop-color="rgb(13,13,13)"/><stop offset="0.434" stop-color="rgb(51,51,51)"/><stop offset="0.577" stop-color="rgb(75,75,75)"/><stop offset="0.621" stop-color="rgb(93,93,93)"/><stop offset="0.626" stop-color="rgb(99,99,99)"/><stop offset="0.676" stop-color="rgb(190,190,190)"/><stop offset="0.681" stop-color="rgb(199,199,199)"/><stop offset="0.698" stop-color="rgb(212,212,212)"/><stop offset="0.714" stop-color="rgb(195,195,195)"/><stop offset="0.725" stop-color="rgb(161,161,161)"/><stop offset="0.753" stop-color="rgb(94,94,94)"/><stop offset="0.786" stop-color="rgb(79,79,79)"/><stop offset="0.863" stop-color="rgb(57,57,57)"/><stop offset="1.000" stop-color="rgb(31,31,31)"/></linearGradient><linearGradient id="dg41" x1="0" y1="0" x2="0" y2="1"><stop offset="0.000" stop-color="rgb(8,8,8)"/><stop offset="0.269" stop-color="rgb(13,13,13)"/><stop offset="0.434" stop-color="rgb(52,52,52)"/><stop offset="0.571" stop-color="rgb(74,74,74)"/><stop offset="0.621" stop-color="rgb(93,93,93)"/><stop offset="0.659" stop-color="rgb(158,158,158)"/><stop offset="0.676" stop-color="rgb(191,191,191)"/><stop offset="0.692" stop-color="rgb(209,209,209)"/><stop offset="0.698" stop-color="rgb(211,211,211)"/><stop offset="0.714" stop-color="rgb(193,193,193)"/><stop offset="0.725" stop-color="rgb(160,160,160)"/><stop offset="0.753" stop-color="rgb(94,94,94)"/><stop offset="0.786" stop-color="rgb(79,79,79)"/><stop offset="0.863" stop-color="rgb(57,57,57)"/><stop offset="1.000" stop-color="rgb(31,31,31)"/></linearGradient><linearGradient id="dg42" x1="0" y1="0" x2="0" y2="1"><stop offset="0.000" stop-color="rgb(8,8,8)"/><stop offset="0.264" stop-color="rgb(13,13,13)"/><stop offset="0.429" stop-color="rgb(51,51,51)"/><stop offset="0.571" stop-color="rgb(74,74,74)"/><stop offset="0.621" stop-color="rgb(94,94,94)"/><stop offset="0.643" stop-color="rgb(134,134,134)"/><stop offset="0.659" stop-color="rgb(159,159,159)"/><stop offset="0.676" stop-color="rgb(191,191,191)"/><stop offset="0.692" stop-color="rgb(209,209,209)"/><stop offset="0.698" stop-color="rgb(209,209,209)"/><stop offset="0.714" stop-color="rgb(190,190,190)"/><stop offset="0.725" stop-color="rgb(159,159,159)"/><stop offset="0.753" stop-color="rgb(94,94,94)"/><stop offset="0.786" stop-color="rgb(79,79,79)"/><stop offset="0.863" stop-color="rgb(57,57,57)"/><stop offset="1.000" stop-color="rgb(31,31,31)"/></linearGradient><linearGradient id="dg43" x1="0" y1="0" x2="0" y2="1"><stop offset="0.000" stop-color="rgb(8,8,8)"/><stop offset="0.264" stop-color="rgb(13,13,13)"/><stop offset="0.429" stop-color="rgb(52,52,52)"/><stop offset="0.571" stop-color="rgb(75,75,75)"/><stop offset="0.621" stop-color="rgb(94,94,94)"/><stop offset="0.676" stop-color="rgb(192,192,192)"/><stop offset="0.692" stop-color="rgb(208,208,208)"/><stop offset="0.698" stop-color="rgb(208,208,208)"/><stop offset="0.709" stop-color="rgb(197,197,197)"/><stop offset="0.714" stop-color="rgb(188,188,188)"/><stop offset="0.736" stop-color="rgb(130,130,130)"/><stop offset="0.753" stop-color="rgb(94,94,94)"/><stop offset="0.786" stop-color="rgb(79,79,79)"/><stop offset="0.863" stop-color="rgb(57,57,57)"/><stop offset="1.000" stop-color="rgb(31,31,31)"/></linearGradient><linearGradient id="dg44" x1="0" y1="0" x2="0" y2="1"><stop offset="0.000" stop-color="rgb(8,8,8)"/><stop offset="0.264" stop-color="rgb(13,13,13)"/><stop offset="0.423" stop-color="rgb(52,52,52)"/><stop offset="0.571" stop-color="rgb(75,75,75)"/><stop offset="0.621" stop-color="rgb(94,94,94)"/><stop offset="0.637" stop-color="rgb(127,127,127)"/><stop offset="0.659" stop-color="rgb(161,161,161)"/><stop offset="0.676" stop-color="rgb(192,192,192)"/><stop offset="0.692" stop-color="rgb(208,208,208)"/><stop offset="0.709" stop-color="rgb(196,196,196)"/><stop offset="0.714" stop-color="rgb(186,186,186)"/><stop offset="0.736" stop-color="rgb(129,129,129)"/><stop offset="0.753" stop-color="rgb(94,94,94)"/><stop offset="0.786" stop-color="rgb(79,79,79)"/><stop offset="0.863" stop-color="rgb(57,57,57)"/><stop offset="1.000" stop-color="rgb(31,31,31)"/></linearGradient><linearGradient id="dg45" x1="0" y1="0" x2="0" y2="1"><stop offset="0.000" stop-color="rgb(9,9,9)"/><stop offset="0.264" stop-color="rgb(14,14,14)"/><stop offset="0.423" stop-color="rgb(53,53,53)"/><stop offset="0.571" stop-color="rgb(75,75,75)"/><stop offset="0.621" stop-color="rgb(96,96,96)"/><stop offset="0.637" stop-color="rgb(128,128,128)"/><stop offset="0.676" stop-color="rgb(192,192,192)"/><stop offset="0.692" stop-color="rgb(208,208,208)"/><stop offset="0.709" stop-color="rgb(194,194,194)"/><stop offset="0.742" stop-color="rgb(116,116,116)"/><stop offset="0.753" stop-color="rgb(94,94,94)"/><stop offset="0.786" stop-color="rgb(79,79,79)"/><stop offset="0.863" stop-color="rgb(57,57,57)"/><stop offset="1.000" stop-color="rgb(32,32,32)"/></linearGradient><linearGradient id="dg46" x1="0" y1="0" x2="0" y2="1"><stop offset="0.000" stop-color="rgb(9,9,9)"/><stop offset="0.264" stop-color="rgb(14,14,14)"/><stop offset="0.418" stop-color="rgb(52,52,52)"/><stop offset="0.571" stop-color="rgb(76,76,76)"/><stop offset="0.621" stop-color="rgb(97,97,97)"/><stop offset="0.637" stop-color="rgb(129,129,129)"/><stop offset="0.676" stop-color="rgb(192,192,192)"/><stop offset="0.692" stop-color="rgb(207,207,207)"/><stop offset="0.709" stop-color="rgb(193,193,193)"/><stop offset="0.736" stop-color="rgb(127,127,127)"/><stop offset="0.753" stop-color="rgb(94,94,94)"/><stop offset="0.786" stop-color="rgb(79,79,79)"/><stop offset="0.868" stop-color="rgb(56,56,56)"/><stop offset="1.000" stop-color="rgb(32,32,32)"/></linearGradient><linearGradient id="dg47" x1="0" y1="0" x2="0" y2="1"><stop offset="0.000" stop-color="rgb(9,9,9)"/><stop offset="0.264" stop-color="rgb(14,14,14)"/><stop offset="0.418" stop-color="rgb(53,53,53)"/><stop offset="0.571" stop-color="rgb(76,76,76)"/><stop offset="0.615" stop-color="rgb(93,93,93)"/><stop offset="0.621" stop-color="rgb(99,99,99)"/><stop offset="0.637" stop-color="rgb(130,130,130)"/><stop offset="0.676" stop-color="rgb(192,192,192)"/><stop offset="0.692" stop-color="rgb(207,207,207)"/><stop offset="0.709" stop-color="rgb(192,192,192)"/><stop offset="0.736" stop-color="rgb(126,126,126)"/><stop offset="0.753" stop-color="rgb(94,94,94)"/><stop offset="0.786" stop-color="rgb(79,79,79)"/><stop offset="0.868" stop-color="rgb(56,56,56)"/><stop offset="1.000" stop-color="rgb(32,32,32)"/></linearGradient><linearGradient id="dg48" x1="0" y1="0" x2="0" y2="1"><stop offset="0.000" stop-color="rgb(9,9,9)"/><stop offset="0.264" stop-color="rgb(15,15,15)"/><stop offset="0.412" stop-color="rgb(52,52,52)"/><stop offset="0.566" stop-color="rgb(75,75,75)"/><stop offset="0.615" stop-color="rgb(93,93,93)"/><stop offset="0.621" stop-color="rgb(100,100,100)"/><stop offset="0.637" stop-color="rgb(132,132,132)"/><stop offset="0.676" stop-color="rgb(191,191,191)"/><stop offset="0.692" stop-color="rgb(205,205,205)"/><stop offset="0.709" stop-color="rgb(191,191,191)"/><stop offset="0.736" stop-color="rgb(126,126,126)"/><stop offset="0.753" stop-color="rgb(93,93,93)"/><stop offset="0.786" stop-color="rgb(79,79,79)"/><stop offset="0.868" stop-color="rgb(56,56,56)"/><stop offset="1.000" stop-color="rgb(32,32,32)"/></linearGradient><linearGradient id="dg49" x1="0" y1="0" x2="0" y2="1"><stop offset="0.000" stop-color="rgb(9,9,9)"/><stop offset="0.258" stop-color="rgb(14,14,14)"/><stop offset="0.412" stop-color="rgb(53,53,53)"/><stop offset="0.566" stop-color="rgb(75,75,75)"/><stop offset="0.615" stop-color="rgb(94,94,94)"/><stop offset="0.637" stop-color="rgb(133,133,133)"/><stop offset="0.670" stop-color="rgb(184,184,184)"/><stop offset="0.676" stop-color="rgb(191,191,191)"/><stop offset="0.692" stop-color="rgb(204,204,204)"/><stop offset="0.709" stop-color="rgb(189,189,189)"/><stop offset="0.736" stop-color="rgb(125,125,125)"/><stop offset="0.753" stop-color="rgb(93,93,93)"/><stop offset="0.786" stop-color="rgb(79,79,79)"/><stop offset="0.868" stop-color="rgb(56,56,56)"/><stop offset="1.000" stop-color="rgb(32,32,32)"/></linearGradient><linearGradient id="dg50" x1="0" y1="0" x2="0" y2="1"><stop offset="0.000" stop-color="rgb(9,9,9)"/><stop offset="0.258" stop-color="rgb(15,15,15)"/><stop offset="0.407" stop-color="rgb(53,53,53)"/><stop offset="0.566" stop-color="rgb(75,75,75)"/><stop offset="0.615" stop-color="rgb(94,94,94)"/><stop offset="0.637" stop-color="rgb(134,134,134)"/><stop offset="0.670" stop-color="rgb(184,184,184)"/><stop offset="0.687" stop-color="rgb(200,200,200)"/><stop offset="0.692" stop-color="rgb(202,202,202)"/><stop offset="0.709" stop-color="rgb(187,187,187)"/><stop offset="0.736" stop-color="rgb(124,124,124)"/><stop offset="0.747" stop-color="rgb(101,101,101)"/><stop offset="0.753" stop-color="rgb(93,93,93)"/><stop offset="0.786" stop-color="rgb(79,79,79)"/><stop offset="0.868" stop-color="rgb(56,56,56)"/><stop offset="1.000" stop-color="rgb(32,32,32)"/></linearGradient><linearGradient id="dg51" x1="0" y1="0" x2="0" y2="1"><stop offset="0.000" stop-color="rgb(9,9,9)"/><stop offset="0.258" stop-color="rgb(15,15,15)"/><stop offset="0.407" stop-color="rgb(53,53,53)"/><stop offset="0.566" stop-color="rgb(76,76,76)"/><stop offset="0.615" stop-color="rgb(94,94,94)"/><stop offset="0.637" stop-color="rgb(134,134,134)"/><stop offset="0.670" stop-color="rgb(184,184,184)"/><stop offset="0.687" stop-color="rgb(200,200,200)"/><stop offset="0.692" stop-color="rgb(201,201,201)"/><stop offset="0.709" stop-color="rgb(185,185,185)"/><stop offset="0.736" stop-color="rgb(123,123,123)"/><stop offset="0.747" stop-color="rgb(100,100,100)"/><stop offset="0.753" stop-color="rgb(93,93,93)"/><stop offset="0.786" stop-color="rgb(79,79,79)"/><stop offset="0.868" stop-color="rgb(56,56,56)"/><stop offset="1.000" stop-color="rgb(32,32,32)"/></linearGradient><linearGradient id="dg52" x1="0" y1="0" x2="0" y2="1"><stop offset="0.000" stop-color="rgb(9,9,9)"/><stop offset="0.258" stop-color="rgb(15,15,15)"/><stop offset="0.407" stop-color="rgb(54,54,54)"/><stop offset="0.566" stop-color="rgb(76,76,76)"/><stop offset="0.615" stop-color="rgb(96,96,96)"/><stop offset="0.637" stop-color="rgb(135,135,135)"/><stop offset="0.670" stop-color="rgb(184,184,184)"/><stop offset="0.687" stop-color="rgb(199,199,199)"/><stop offset="0.692" stop-color="rgb(199,199,199)"/><stop offset="0.709" stop-color="rgb(183,183,183)"/><stop offset="0.720" stop-color="rgb(161,161,161)"/><stop offset="0.736" stop-color="rgb(122,122,122)"/><stop offset="0.747" stop-color="rgb(100,100,100)"/><stop offset="0.753" stop-color="rgb(93,93,93)"/><stop offset="0.786" stop-color="rgb(79,79,79)"/><stop offset="0.868" stop-color="rgb(56,56,56)"/><stop offset="1.000" stop-color="rgb(32,32,32)"/></linearGradient><linearGradient id="dg53" x1="0" y1="0" x2="0" y2="1"><stop offset="0.000" stop-color="rgb(9,9,9)"/><stop offset="0.258" stop-color="rgb(15,15,15)"/><stop offset="0.401" stop-color="rgb(53,53,53)"/><stop offset="0.566" stop-color="rgb(76,76,76)"/><stop offset="0.615" stop-color="rgb(97,97,97)"/><stop offset="0.632" stop-color="rgb(128,128,128)"/><stop offset="0.670" stop-color="rgb(184,184,184)"/><stop offset="0.687" stop-color="rgb(199,199,199)"/><stop offset="0.692" stop-color="rgb(198,198,198)"/><stop offset="0.709" stop-color="rgb(182,182,182)"/><stop offset="0.720" stop-color="rgb(161,161,161)"/><stop offset="0.736" stop-color="rgb(121,121,121)"/><stop offset="0.747" stop-color="rgb(99,99,99)"/><stop offset="0.753" stop-color="rgb(93,93,93)"/><stop offset="0.786" stop-color="rgb(79,79,79)"/><stop offset="0.868" stop-color="rgb(56,56,56)"/><stop offset="1.000" stop-color="rgb(32,32,32)"/></linearGradient><linearGradient id="dg54" x1="0" y1="0" x2="0" y2="1"><stop offset="0.000" stop-color="rgb(10,10,10)"/><stop offset="0.258" stop-color="rgb(16,16,16)"/><stop offset="0.401" stop-color="rgb(54,54,54)"/><stop offset="0.566" stop-color="rgb(77,77,77)"/><stop offset="0.610" stop-color="rgb(93,93,93)"/><stop offset="0.615" stop-color="rgb(99,99,99)"/><stop offset="0.632" stop-color="rgb(129,129,129)"/><stop offset="0.670" stop-color="rgb(184,184,184)"/><stop offset="0.687" stop-color="rgb(198,198,198)"/><stop offset="0.703" stop-color="rgb(188,188,188)"/><stop offset="0.709" stop-color="rgb(180,180,180)"/><stop offset="0.720" stop-color="rgb(160,160,160)"/><stop offset="0.736" stop-color="rgb(121,121,121)"/><stop offset="0.747" stop-color="rgb(99,99,99)"/><stop offset="0.753" stop-color="rgb(93,93,93)"/><stop offset="0.786" stop-color="rgb(79,79,79)"/><stop offset="0.868" stop-color="rgb(57,57,57)"/><stop offset="1.000" stop-color="rgb(32,32,32)"/></linearGradient><linearGradient id="dg55" x1="0" y1="0" x2="0" y2="1"><stop offset="0.000" stop-color="rgb(10,10,10)"/><stop offset="0.258" stop-color="rgb(16,16,16)"/><stop offset="0.396" stop-color="rgb(53,53,53)"/><stop offset="0.566" stop-color="rgb(77,77,77)"/><stop offset="0.610" stop-color="rgb(93,93,93)"/><stop offset="0.615" stop-color="rgb(100,100,100)"/><stop offset="0.632" stop-color="rgb(130,130,130)"/><stop offset="0.670" stop-color="rgb(184,184,184)"/><stop offset="0.687" stop-color="rgb(198,198,198)"/><stop offset="0.703" stop-color="rgb(186,186,186)"/><stop offset="0.709" stop-color="rgb(178,178,178)"/><stop offset="0.720" stop-color="rgb(159,159,159)"/><stop offset="0.736" stop-color="rgb(120,120,120)"/><stop offset="0.747" stop-color="rgb(99,99,99)"/><stop offset="0.753" stop-color="rgb(93,93,93)"/><stop offset="0.786" stop-color="rgb(79,79,79)"/><stop offset="0.868" stop-color="rgb(57,57,57)"/><stop offset="1.000" stop-color="rgb(33,33,33)"/></linearGradient><linearGradient id="dg56" x1="0" y1="0" x2="0" y2="1"><stop offset="0.000" stop-color="rgb(10,10,10)"/><stop offset="0.258" stop-color="rgb(16,16,16)"/><stop offset="0.396" stop-color="rgb(54,54,54)"/><stop offset="0.560" stop-color="rgb(76,76,76)"/><stop offset="0.610" stop-color="rgb(94,94,94)"/><stop offset="0.632" stop-color="rgb(131,131,131)"/><stop offset="0.670" stop-color="rgb(184,184,184)"/><stop offset="0.687" stop-color="rgb(197,197,197)"/><stop offset="0.703" stop-color="rgb(185,185,185)"/><stop offset="0.709" stop-color="rgb(177,177,177)"/><stop offset="0.720" stop-color="rgb(158,158,158)"/><stop offset="0.736" stop-color="rgb(119,119,119)"/><stop offset="0.747" stop-color="rgb(98,98,98)"/><stop offset="0.753" stop-color="rgb(93,93,93)"/><stop offset="0.786" stop-color="rgb(79,79,79)"/><stop offset="0.868" stop-color="rgb(57,57,57)"/><stop offset="1.000" stop-color="rgb(33,33,33)"/></linearGradient><linearGradient id="dg57" x1="0" y1="0" x2="0" y2="1"><stop offset="0.000" stop-color="rgb(10,10,10)"/><stop offset="0.258" stop-color="rgb(16,16,16)"/><stop offset="0.396" stop-color="rgb(54,54,54)"/><stop offset="0.560" stop-color="rgb(76,76,76)"/><stop offset="0.610" stop-color="rgb(94,94,94)"/><stop offset="0.632" stop-color="rgb(132,132,132)"/><stop offset="0.654" stop-color="rgb(162,162,162)"/><stop offset="0.670" stop-color="rgb(184,184,184)"/><stop offset="0.687" stop-color="rgb(197,197,197)"/><stop offset="0.703" stop-color="rgb(184,184,184)"/><stop offset="0.709" stop-color="rgb(176,176,176)"/><stop offset="0.720" stop-color="rgb(157,157,157)"/><stop offset="0.736" stop-color="rgb(119,119,119)"/><stop offset="0.747" stop-color="rgb(98,98,98)"/><stop offset="0.753" stop-color="rgb(93,93,93)"/><stop offset="0.786" stop-color="rgb(79,79,79)"/><stop offset="0.868" stop-color="rgb(57,57,57)"/><stop offset="1.000" stop-color="rgb(33,33,33)"/></linearGradient><linearGradient id="dg58" x1="0" y1="0" x2="0" y2="1"><stop offset="0.000" stop-color="rgb(10,10,10)"/><stop offset="0.264" stop-color="rgb(17,17,17)"/><stop offset="0.319" stop-color="rgb(36,36,36)"/><stop offset="0.390" stop-color="rgb(54,54,54)"/><stop offset="0.560" stop-color="rgb(76,76,76)"/><stop offset="0.610" stop-color="rgb(94,94,94)"/><stop offset="0.632" stop-color="rgb(133,133,133)"/><stop offset="0.654" stop-color="rgb(162,162,162)"/><stop offset="0.670" stop-color="rgb(183,183,183)"/><stop offset="0.687" stop-color="rgb(195,195,195)"/><stop offset="0.703" stop-color="rgb(183,183,183)"/><stop offset="0.709" stop-color="rgb(174,174,174)"/><stop offset="0.720" stop-color="rgb(157,157,157)"/><stop offset="0.736" stop-color="rgb(118,118,118)"/><stop offset="0.747" stop-color="rgb(98,98,98)"/><stop offset="0.753" stop-color="rgb(93,93,93)"/><stop offset="0.786" stop-color="rgb(79,79,79)"/><stop offset="0.868" stop-color="rgb(57,57,57)"/><stop offset="1.000" stop-color="rgb(33,33,33)"/></linearGradient><linearGradient id="dg59" x1="0" y1="0" x2="0" y2="1"><stop offset="0.000" stop-color="rgb(10,10,10)"/><stop offset="0.264" stop-color="rgb(17,17,17)"/><stop offset="0.319" stop-color="rgb(37,37,37)"/><stop offset="0.390" stop-color="rgb(54,54,54)"/><stop offset="0.560" stop-color="rgb(77,77,77)"/><stop offset="0.610" stop-color="rgb(95,95,95)"/><stop offset="0.632" stop-color="rgb(133,133,133)"/><stop offset="0.648" stop-color="rgb(156,156,156)"/><stop offset="0.670" stop-color="rgb(183,183,183)"/><stop offset="0.687" stop-color="rgb(194,194,194)"/><stop offset="0.703" stop-color="rgb(181,181,181)"/><stop offset="0.714" stop-color="rgb(165,165,165)"/><stop offset="0.720" stop-color="rgb(156,156,156)"/><stop offset="0.736" stop-color="rgb(117,117,117)"/><stop offset="0.747" stop-color="rgb(97,97,97)"/><stop offset="0.753" stop-color="rgb(93,93,93)"/><stop offset="0.786" stop-color="rgb(79,79,79)"/><stop offset="0.868" stop-color="rgb(57,57,57)"/><stop offset="1.000" stop-color="rgb(33,33,33)"/></linearGradient><linearGradient id="dg60" x1="0" y1="0" x2="0" y2="1"><stop offset="0.000" stop-color="rgb(10,10,10)"/><stop offset="0.264" stop-color="rgb(17,17,17)"/><stop offset="0.319" stop-color="rgb(37,37,37)"/><stop offset="0.390" stop-color="rgb(55,55,55)"/><stop offset="0.560" stop-color="rgb(77,77,77)"/><stop offset="0.610" stop-color="rgb(97,97,97)"/><stop offset="0.626" stop-color="rgb(126,126,126)"/><stop offset="0.648" stop-color="rgb(156,156,156)"/><stop offset="0.670" stop-color="rgb(182,182,182)"/><stop offset="0.687" stop-color="rgb(193,193,193)"/><stop offset="0.703" stop-color="rgb(180,180,180)"/><stop offset="0.714" stop-color="rgb(164,164,164)"/><stop offset="0.720" stop-color="rgb(155,155,155)"/><stop offset="0.736" stop-color="rgb(117,117,117)"/><stop offset="0.747" stop-color="rgb(97,97,97)"/><stop offset="0.753" stop-color="rgb(93,93,93)"/><stop offset="0.786" stop-color="rgb(79,79,79)"/><stop offset="0.874" stop-color="rgb(56,56,56)"/><stop offset="1.000" stop-color="rgb(33,33,33)"/></linearGradient><linearGradient id="dg61" x1="0" y1="0" x2="0" y2="1"><stop offset="0.000" stop-color="rgb(10,10,10)"/><stop offset="0.264" stop-color="rgb(18,18,18)"/><stop offset="0.319" stop-color="rgb(38,38,38)"/><stop offset="0.385" stop-color="rgb(54,54,54)"/><stop offset="0.560" stop-color="rgb(77,77,77)"/><stop offset="0.604" stop-color="rgb(93,93,93)"/><stop offset="0.610" stop-color="rgb(98,98,98)"/><stop offset="0.626" stop-color="rgb(127,127,127)"/><stop offset="0.648" stop-color="rgb(157,157,157)"/><stop offset="0.670" stop-color="rgb(182,182,182)"/><stop offset="0.687" stop-color="rgb(191,191,191)"/><stop offset="0.703" stop-color="rgb(178,178,178)"/><stop offset="0.714" stop-color="rgb(163,163,163)"/><stop offset="0.720" stop-color="rgb(154,154,154)"/><stop offset="0.736" stop-color="rgb(116,116,116)"/><stop offset="0.747" stop-color="rgb(97,97,97)"/><stop offset="0.753" stop-color="rgb(93,93,93)"/><stop offset="0.786" stop-color="rgb(79,79,79)"/><stop offset="0.874" stop-color="rgb(56,56,56)"/><stop offset="1.000" stop-color="rgb(33,33,33)"/></linearGradient><linearGradient id="dg62" x1="0" y1="0" x2="0" y2="1"><stop offset="0.000" stop-color="rgb(10,10,10)"/><stop offset="0.264" stop-color="rgb(18,18,18)"/><stop offset="0.319" stop-color="rgb(38,38,38)"/><stop offset="0.385" stop-color="rgb(55,55,55)"/><stop offset="0.560" stop-color="rgb(78,78,78)"/><stop offset="0.604" stop-color="rgb(93,93,93)"/><stop offset="0.648" stop-color="rgb(157,157,157)"/><stop offset="0.670" stop-color="rgb(181,181,181)"/><stop offset="0.687" stop-color="rgb(190,190,190)"/><stop offset="0.703" stop-color="rgb(177,177,177)"/><stop offset="0.714" stop-color="rgb(162,162,162)"/><stop offset="0.720" stop-color="rgb(153,153,153)"/><stop offset="0.736" stop-color="rgb(116,116,116)"/><stop offset="0.747" stop-color="rgb(96,96,96)"/><stop offset="0.753" stop-color="rgb(92,92,92)"/><stop offset="0.786" stop-color="rgb(79,79,79)"/><stop offset="0.874" stop-color="rgb(56,56,56)"/><stop offset="1.000" stop-color="rgb(33,33,33)"/></linearGradient><linearGradient id="dg63" x1="0" y1="0" x2="0" y2="1"><stop offset="0.000" stop-color="rgb(11,11,11)"/><stop offset="0.264" stop-color="rgb(18,18,18)"/><stop offset="0.313" stop-color="rgb(37,37,37)"/><stop offset="0.385" stop-color="rgb(55,55,55)"/><stop offset="0.555" stop-color="rgb(77,77,77)"/><stop offset="0.604" stop-color="rgb(94,94,94)"/><stop offset="0.626" stop-color="rgb(129,129,129)"/><stop offset="0.648" stop-color="rgb(158,158,158)"/><stop offset="0.665" stop-color="rgb(176,176,176)"/><stop offset="0.681" stop-color="rgb(189,189,189)"/><stop offset="0.698" stop-color="rgb(181,181,181)"/><stop offset="0.714" stop-color="rgb(161,161,161)"/><stop offset="0.720" stop-color="rgb(152,152,152)"/><stop offset="0.736" stop-color="rgb(115,115,115)"/><stop offset="0.747" stop-color="rgb(96,96,96)"/><stop offset="0.753" stop-color="rgb(92,92,92)"/><stop offset="0.786" stop-color="rgb(79,79,79)"/><stop offset="0.874" stop-color="rgb(56,56,56)"/><stop offset="1.000" stop-color="rgb(33,33,33)"/></linearGradient><linearGradient id="dg64" x1="0" y1="0" x2="0" y2="1"><stop offset="0.000" stop-color="rgb(11,11,11)"/><stop offset="0.264" stop-color="rgb(18,18,18)"/><stop offset="0.313" stop-color="rgb(38,38,38)"/><stop offset="0.385" stop-color="rgb(56,56,56)"/><stop offset="0.555" stop-color="rgb(77,77,77)"/><stop offset="0.604" stop-color="rgb(94,94,94)"/><stop offset="0.626" stop-color="rgb(130,130,130)"/><stop offset="0.648" stop-color="rgb(158,158,158)"/><stop offset="0.665" stop-color="rgb(176,176,176)"/><stop offset="0.681" stop-color="rgb(188,188,188)"/><stop offset="0.698" stop-color="rgb(180,180,180)"/><stop offset="0.714" stop-color="rgb(161,161,161)"/><stop offset="0.736" stop-color="rgb(114,114,114)"/><stop offset="0.747" stop-color="rgb(96,96,96)"/><stop offset="0.753" stop-color="rgb(92,92,92)"/><stop offset="0.786" stop-color="rgb(79,79,79)"/><stop offset="0.874" stop-color="rgb(56,56,56)"/><stop offset="1.000" stop-color="rgb(34,34,34)"/></linearGradient><linearGradient id="dg65" x1="0" y1="0" x2="0" y2="1"><stop offset="0.000" stop-color="rgb(11,11,11)"/><stop offset="0.264" stop-color="rgb(18,18,18)"/><stop offset="0.313" stop-color="rgb(38,38,38)"/><stop offset="0.379" stop-color="rgb(55,55,55)"/><stop offset="0.555" stop-color="rgb(77,77,77)"/><stop offset="0.604" stop-color="rgb(94,94,94)"/><stop offset="0.626" stop-color="rgb(131,131,131)"/><stop offset="0.643" stop-color="rgb(152,152,152)"/><stop offset="0.665" stop-color="rgb(176,176,176)"/><stop offset="0.681" stop-color="rgb(188,188,188)"/><stop offset="0.698" stop-color="rgb(179,179,179)"/><stop offset="0.714" stop-color="rgb(160,160,160)"/><stop offset="0.736" stop-color="rgb(114,114,114)"/><stop offset="0.747" stop-color="rgb(96,96,96)"/><stop offset="0.753" stop-color="rgb(92,92,92)"/><stop offset="0.786" stop-color="rgb(79,79,79)"/><stop offset="0.874" stop-color="rgb(56,56,56)"/><stop offset="1.000" stop-color="rgb(34,34,34)"/></linearGradient><linearGradient id="dg66" x1="0" y1="0" x2="0" y2="1"><stop offset="0.000" stop-color="rgb(11,11,11)"/><stop offset="0.264" stop-color="rgb(19,19,19)"/><stop offset="0.313" stop-color="rgb(39,39,39)"/><stop offset="0.379" stop-color="rgb(56,56,56)"/><stop offset="0.555" stop-color="rgb(77,77,77)"/><stop offset="0.604" stop-color="rgb(95,95,95)"/><stop offset="0.626" stop-color="rgb(131,131,131)"/><stop offset="0.643" stop-color="rgb(153,153,153)"/><stop offset="0.665" stop-color="rgb(176,176,176)"/><stop offset="0.681" stop-color="rgb(187,187,187)"/><stop offset="0.698" stop-color="rgb(177,177,177)"/><stop offset="0.714" stop-color="rgb(159,159,159)"/><stop offset="0.736" stop-color="rgb(113,113,113)"/><stop offset="0.747" stop-color="rgb(95,95,95)"/><stop offset="0.753" stop-color="rgb(92,92,92)"/><stop offset="0.786" stop-color="rgb(79,79,79)"/><stop offset="0.874" stop-color="rgb(56,56,56)"/><stop offset="1.000" stop-color="rgb(34,34,34)"/></linearGradient><linearGradient id="dg67" x1="0" y1="0" x2="0" y2="1"><stop offset="0.000" stop-color="rgb(11,11,11)"/><stop offset="0.264" stop-color="rgb(19,19,19)"/><stop offset="0.313" stop-color="rgb(39,39,39)"/><stop offset="0.379" stop-color="rgb(56,56,56)"/><stop offset="0.555" stop-color="rgb(78,78,78)"/><stop offset="0.604" stop-color="rgb(96,96,96)"/><stop offset="0.626" stop-color="rgb(132,132,132)"/><stop offset="0.643" stop-color="rgb(153,153,153)"/><stop offset="0.665" stop-color="rgb(175,175,175)"/><stop offset="0.681" stop-color="rgb(186,186,186)"/><stop offset="0.698" stop-color="rgb(176,176,176)"/><stop offset="0.714" stop-color="rgb(159,159,159)"/><stop offset="0.736" stop-color="rgb(113,113,113)"/><stop offset="0.747" stop-color="rgb(95,95,95)"/><stop offset="0.753" stop-color="rgb(92,92,92)"/><stop offset="0.786" stop-color="rgb(79,79,79)"/><stop offset="0.874" stop-color="rgb(57,57,57)"/><stop offset="1.000" stop-color="rgb(34,34,34)"/></linearGradient><linearGradient id="dg68" x1="0" y1="0" x2="0" y2="1"><stop offset="0.000" stop-color="rgb(11,11,11)"/><stop offset="0.269" stop-color="rgb(20,20,20)"/><stop offset="0.313" stop-color="rgb(40,40,40)"/><stop offset="0.379" stop-color="rgb(56,56,56)"/><stop offset="0.555" stop-color="rgb(78,78,78)"/><stop offset="0.604" stop-color="rgb(97,97,97)"/><stop offset="0.621" stop-color="rgb(125,125,125)"/><stop offset="0.643" stop-color="rgb(154,154,154)"/><stop offset="0.665" stop-color="rgb(175,175,175)"/><stop offset="0.681" stop-color="rgb(186,186,186)"/><stop offset="0.698" stop-color="rgb(175,175,175)"/><stop offset="0.714" stop-color="rgb(158,158,158)"/><stop offset="0.736" stop-color="rgb(112,112,112)"/><stop offset="0.747" stop-color="rgb(95,95,95)"/><stop offset="0.753" stop-color="rgb(92,92,92)"/><stop offset="0.786" stop-color="rgb(79,79,79)"/><stop offset="0.874" stop-color="rgb(57,57,57)"/><stop offset="1.000" stop-color="rgb(34,34,34)"/></linearGradient><linearGradient id="dg69" x1="0" y1="0" x2="0" y2="1"><stop offset="0.000" stop-color="rgb(11,11,11)"/><stop offset="0.269" stop-color="rgb(19,19,19)"/><stop offset="0.313" stop-color="rgb(40,40,40)"/><stop offset="0.374" stop-color="rgb(56,56,56)"/><stop offset="0.555" stop-color="rgb(78,78,78)"/><stop offset="0.599" stop-color="rgb(93,93,93)"/><stop offset="0.604" stop-color="rgb(98,98,98)"/><stop offset="0.621" stop-color="rgb(126,126,126)"/><stop offset="0.643" stop-color="rgb(154,154,154)"/><stop offset="0.665" stop-color="rgb(174,174,174)"/><stop offset="0.681" stop-color="rgb(185,185,185)"/><stop offset="0.698" stop-color="rgb(174,174,174)"/><stop offset="0.714" stop-color="rgb(158,158,158)"/><stop offset="0.731" stop-color="rgb(122,122,122)"/><stop offset="0.747" stop-color="rgb(95,95,95)"/><stop offset="0.786" stop-color="rgb(79,79,79)"/><stop offset="0.874" stop-color="rgb(57,57,57)"/><stop offset="1.000" stop-color="rgb(34,34,34)"/></linearGradient><linearGradient id="dg70" x1="0" y1="0" x2="0" y2="1"><stop offset="0.000" stop-color="rgb(11,11,11)"/><stop offset="0.269" stop-color="rgb(20,20,20)"/><stop offset="0.313" stop-color="rgb(40,40,40)"/><stop offset="0.374" stop-color="rgb(56,56,56)"/><stop offset="0.555" stop-color="rgb(79,79,79)"/><stop offset="0.599" stop-color="rgb(94,94,94)"/><stop offset="0.643" stop-color="rgb(155,155,155)"/><stop offset="0.665" stop-color="rgb(174,174,174)"/><stop offset="0.681" stop-color="rgb(183,183,183)"/><stop offset="0.698" stop-color="rgb(173,173,173)"/><stop offset="0.714" stop-color="rgb(157,157,157)"/><stop offset="0.731" stop-color="rgb(121,121,121)"/><stop offset="0.747" stop-color="rgb(95,95,95)"/><stop offset="0.786" stop-color="rgb(79,79,79)"/><stop offset="0.874" stop-color="rgb(57,57,57)"/><stop offset="1.000" stop-color="rgb(34,34,34)"/></linearGradient><linearGradient id="dg71" x1="0" y1="0" x2="0" y2="1"><stop offset="0.000" stop-color="rgb(11,11,11)"/><stop offset="0.269" stop-color="rgb(20,20,20)"/><stop offset="0.313" stop-color="rgb(41,41,41)"/><stop offset="0.374" stop-color="rgb(57,57,57)"/><stop offset="0.549" stop-color="rgb(78,78,78)"/><stop offset="0.599" stop-color="rgb(94,94,94)"/><stop offset="0.621" stop-color="rgb(127,127,127)"/><stop offset="0.643" stop-color="rgb(155,155,155)"/><stop offset="0.665" stop-color="rgb(173,173,173)"/><stop offset="0.681" stop-color="rgb(182,182,182)"/><stop offset="0.714" stop-color="rgb(157,157,157)"/><stop offset="0.731" stop-color="rgb(120,120,120)"/><stop offset="0.747" stop-color="rgb(94,94,94)"/><stop offset="0.786" stop-color="rgb(79,79,79)"/><stop offset="0.874" stop-color="rgb(57,57,57)"/><stop offset="1.000" stop-color="rgb(34,34,34)"/></linearGradient><linearGradient id="dg72" x1="0" y1="0" x2="0" y2="1"><stop offset="0.000" stop-color="rgb(12,12,12)"/><stop offset="0.269" stop-color="rgb(20,20,20)"/><stop offset="0.313" stop-color="rgb(41,41,41)"/><stop offset="0.374" stop-color="rgb(57,57,57)"/><stop offset="0.549" stop-color="rgb(78,78,78)"/><stop offset="0.599" stop-color="rgb(94,94,94)"/><stop offset="0.621" stop-color="rgb(128,128,128)"/><stop offset="0.643" stop-color="rgb(156,156,156)"/><stop offset="0.665" stop-color="rgb(173,173,173)"/><stop offset="0.681" stop-color="rgb(181,181,181)"/><stop offset="0.714" stop-color="rgb(156,156,156)"/><stop offset="0.731" stop-color="rgb(119,119,119)"/><stop offset="0.747" stop-color="rgb(94,94,94)"/><stop offset="0.786" stop-color="rgb(79,79,79)"/><stop offset="0.874" stop-color="rgb(57,57,57)"/><stop offset="1.000" stop-color="rgb(34,34,34)"/></linearGradient><linearGradient id="dg73" x1="0" y1="0" x2="0" y2="1"><stop offset="0.000" stop-color="rgb(12,12,12)"/><stop offset="0.269" stop-color="rgb(20,20,20)"/><stop offset="0.308" stop-color="rgb(40,40,40)"/><stop offset="0.368" stop-color="rgb(56,56,56)"/><stop offset="0.549" stop-color="rgb(78,78,78)"/><stop offset="0.599" stop-color="rgb(94,94,94)"/><stop offset="0.621" stop-color="rgb(129,129,129)"/><stop offset="0.643" stop-color="rgb(156,156,156)"/><stop offset="0.665" stop-color="rgb(172,172,172)"/><stop offset="0.681" stop-color="rgb(180,180,180)"/><stop offset="0.714" stop-color="rgb(156,156,156)"/><stop offset="0.731" stop-color="rgb(119,119,119)"/><stop offset="0.747" stop-color="rgb(94,94,94)"/><stop offset="0.786" stop-color="rgb(79,79,79)"/><stop offset="0.879" stop-color="rgb(56,56,56)"/><stop offset="1.000" stop-color="rgb(35,35,35)"/></linearGradient><linearGradient id="dg74" x1="0" y1="0" x2="0" y2="1"><stop offset="0.000" stop-color="rgb(12,12,12)"/><stop offset="0.275" stop-color="rgb(21,21,21)"/><stop offset="0.308" stop-color="rgb(40,40,40)"/><stop offset="0.368" stop-color="rgb(57,57,57)"/><stop offset="0.549" stop-color="rgb(78,78,78)"/><stop offset="0.599" stop-color="rgb(95,95,95)"/><stop offset="0.621" stop-color="rgb(130,130,130)"/><stop offset="0.643" stop-color="rgb(156,156,156)"/><stop offset="0.665" stop-color="rgb(172,172,172)"/><stop offset="0.681" stop-color="rgb(178,178,178)"/><stop offset="0.714" stop-color="rgb(155,155,155)"/><stop offset="0.731" stop-color="rgb(118,118,118)"/><stop offset="0.747" stop-color="rgb(94,94,94)"/><stop offset="0.786" stop-color="rgb(79,79,79)"/><stop offset="0.879" stop-color="rgb(56,56,56)"/><stop offset="1.000" stop-color="rgb(35,35,35)"/></linearGradient><linearGradient id="dg75" x1="0" y1="0" x2="0" y2="1"><stop offset="0.000" stop-color="rgb(12,12,12)"/><stop offset="0.275" stop-color="rgb(21,21,21)"/><stop offset="0.308" stop-color="rgb(41,41,41)"/><stop offset="0.368" stop-color="rgb(57,57,57)"/><stop offset="0.549" stop-color="rgb(79,79,79)"/><stop offset="0.599" stop-color="rgb(96,96,96)"/><stop offset="0.621" stop-color="rgb(130,130,130)"/><stop offset="0.637" stop-color="rgb(151,151,151)"/><stop offset="0.676" stop-color="rgb(177,177,177)"/><stop offset="0.692" stop-color="rgb(171,171,171)"/><stop offset="0.714" stop-color="rgb(155,155,155)"/><stop offset="0.731" stop-color="rgb(117,117,117)"/><stop offset="0.747" stop-color="rgb(94,94,94)"/><stop offset="0.786" stop-color="rgb(79,79,79)"/><stop offset="0.879" stop-color="rgb(56,56,56)"/><stop offset="1.000" stop-color="rgb(35,35,35)"/></linearGradient><linearGradient id="dg76" x1="0" y1="0" x2="0" y2="1"><stop offset="0.000" stop-color="rgb(12,12,12)"/><stop offset="0.275" stop-color="rgb(21,21,21)"/><stop offset="0.308" stop-color="rgb(41,41,41)"/><stop offset="0.368" stop-color="rgb(57,57,57)"/><stop offset="0.549" stop-color="rgb(79,79,79)"/><stop offset="0.599" stop-color="rgb(97,97,97)"/><stop offset="0.621" stop-color="rgb(131,131,131)"/><stop offset="0.637" stop-color="rgb(151,151,151)"/><stop offset="0.676" stop-color="rgb(177,177,177)"/><stop offset="0.692" stop-color="rgb(170,170,170)"/><stop offset="0.714" stop-color="rgb(155,155,155)"/><stop offset="0.731" stop-color="rgb(117,117,117)"/><stop offset="0.747" stop-color="rgb(94,94,94)"/><stop offset="0.786" stop-color="rgb(79,79,79)"/><stop offset="0.879" stop-color="rgb(56,56,56)"/><stop offset="1.000" stop-color="rgb(35,35,35)"/></linearGradient><linearGradient id="dg77" x1="0" y1="0" x2="0" y2="1"><stop offset="0.000" stop-color="rgb(12,12,12)"/><stop offset="0.275" stop-color="rgb(21,21,21)"/><stop offset="0.308" stop-color="rgb(42,42,42)"/><stop offset="0.368" stop-color="rgb(58,58,58)"/><stop offset="0.549" stop-color="rgb(79,79,79)"/><stop offset="0.593" stop-color="rgb(93,93,93)"/><stop offset="0.637" stop-color="rgb(152,152,152)"/><stop offset="0.676" stop-color="rgb(176,176,176)"/><stop offset="0.714" stop-color="rgb(154,154,154)"/><stop offset="0.731" stop-color="rgb(116,116,116)"/><stop offset="0.747" stop-color="rgb(94,94,94)"/><stop offset="0.786" stop-color="rgb(79,79,79)"/><stop offset="0.879" stop-color="rgb(56,56,56)"/><stop offset="1.000" stop-color="rgb(35,35,35)"/></linearGradient><linearGradient id="dg78" x1="0" y1="0" x2="0" y2="1"><stop offset="0.000" stop-color="rgb(12,12,12)"/><stop offset="0.275" stop-color="rgb(22,22,22)"/><stop offset="0.308" stop-color="rgb(42,42,42)"/><stop offset="0.368" stop-color="rgb(58,58,58)"/><stop offset="0.549" stop-color="rgb(80,80,80)"/><stop offset="0.593" stop-color="rgb(94,94,94)"/><stop offset="0.637" stop-color="rgb(152,152,152)"/><stop offset="0.676" stop-color="rgb(175,175,175)"/><stop offset="0.714" stop-color="rgb(154,154,154)"/><stop offset="0.731" stop-color="rgb(116,116,116)"/><stop offset="0.747" stop-color="rgb(94,94,94)"/><stop offset="0.786" stop-color="rgb(79,79,79)"/><stop offset="0.879" stop-color="rgb(57,57,57)"/><stop offset="1.000" stop-color="rgb(35,35,35)"/></linearGradient><linearGradient id="dg79" x1="0" y1="0" x2="0" y2="1"><stop offset="0.000" stop-color="rgb(12,12,12)"/><stop offset="0.280" stop-color="rgb(22,22,22)"/><stop offset="0.308" stop-color="rgb(42,42,42)"/><stop offset="0.363" stop-color="rgb(57,57,57)"/><stop offset="0.544" stop-color="rgb(78,78,78)"/><stop offset="0.593" stop-color="rgb(94,94,94)"/><stop offset="0.615" stop-color="rgb(126,126,126)"/><stop offset="0.637" stop-color="rgb(153,153,153)"/><stop offset="0.676" stop-color="rgb(174,174,174)"/><stop offset="0.714" stop-color="rgb(153,153,153)"/><stop offset="0.731" stop-color="rgb(115,115,115)"/><stop offset="0.747" stop-color="rgb(94,94,94)"/><stop offset="0.786" stop-color="rgb(79,79,79)"/><stop offset="0.879" stop-color="rgb(57,57,57)"/><stop offset="1.000" stop-color="rgb(35,35,35)"/></linearGradient><linearGradient id="dg80" x1="0" y1="0" x2="0" y2="1"><stop offset="0.000" stop-color="rgb(12,12,12)"/><stop offset="0.280" stop-color="rgb(22,22,22)"/><stop offset="0.308" stop-color="rgb(43,43,43)"/><stop offset="0.363" stop-color="rgb(58,58,58)"/><stop offset="0.544" stop-color="rgb(79,79,79)"/><stop offset="0.593" stop-color="rgb(94,94,94)"/><stop offset="0.615" stop-color="rgb(127,127,127)"/><stop offset="0.637" stop-color="rgb(153,153,153)"/><stop offset="0.676" stop-color="rgb(174,174,174)"/><stop offset="0.714" stop-color="rgb(153,153,153)"/><stop offset="0.731" stop-color="rgb(115,115,115)"/><stop offset="0.747" stop-color="rgb(94,94,94)"/><stop offset="0.786" stop-color="rgb(79,79,79)"/><stop offset="0.879" stop-color="rgb(57,57,57)"/><stop offset="1.000" stop-color="rgb(35,35,35)"/></linearGradient><linearGradient id="dg81" x1="0" y1="0" x2="0" y2="1"><stop offset="0.000" stop-color="rgb(13,13,13)"/><stop offset="0.280" stop-color="rgb(22,22,22)"/><stop offset="0.308" stop-color="rgb(43,43,43)"/><stop offset="0.363" stop-color="rgb(58,58,58)"/><stop offset="0.544" stop-color="rgb(79,79,79)"/><stop offset="0.593" stop-color="rgb(94,94,94)"/><stop offset="0.615" stop-color="rgb(128,128,128)"/><stop offset="0.637" stop-color="rgb(153,153,153)"/><stop offset="0.676" stop-color="rgb(173,173,173)"/><stop offset="0.714" stop-color="rgb(152,152,152)"/><stop offset="0.731" stop-color="rgb(114,114,114)"/><stop offset="0.747" stop-color="rgb(94,94,94)"/><stop offset="0.786" stop-color="rgb(79,79,79)"/><stop offset="0.879" stop-color="rgb(57,57,57)"/><stop offset="1.000" stop-color="rgb(35,35,35)"/></linearGradient><linearGradient id="dg82" x1="0" y1="0" x2="0" y2="1"><stop offset="0.000" stop-color="rgb(13,13,13)"/><stop offset="0.280" stop-color="rgb(23,23,23)"/><stop offset="0.308" stop-color="rgb(43,43,43)"/><stop offset="0.363" stop-color="rgb(59,59,59)"/><stop offset="0.544" stop-color="rgb(79,79,79)"/><stop offset="0.593" stop-color="rgb(95,95,95)"/><stop offset="0.615" stop-color="rgb(128,128,128)"/><stop offset="0.637" stop-color="rgb(153,153,153)"/><stop offset="0.676" stop-color="rgb(172,172,172)"/><stop offset="0.714" stop-color="rgb(151,151,151)"/><stop offset="0.731" stop-color="rgb(114,114,114)"/><stop offset="0.747" stop-color="rgb(94,94,94)"/><stop offset="0.786" stop-color="rgb(79,79,79)"/><stop offset="0.879" stop-color="rgb(57,57,57)"/><stop offset="1.000" stop-color="rgb(36,36,36)"/></linearGradient><linearGradient id="dg83" x1="0" y1="0" x2="0" y2="1"><stop offset="0.000" stop-color="rgb(13,13,13)"/><stop offset="0.280" stop-color="rgb(23,23,23)"/><stop offset="0.286" stop-color="rgb(24,24,24)"/><stop offset="0.308" stop-color="rgb(44,44,44)"/><stop offset="0.363" stop-color="rgb(59,59,59)"/><stop offset="0.544" stop-color="rgb(79,79,79)"/><stop offset="0.593" stop-color="rgb(96,96,96)"/><stop offset="0.615" stop-color="rgb(129,129,129)"/><stop offset="0.637" stop-color="rgb(154,154,154)"/><stop offset="0.676" stop-color="rgb(170,170,170)"/><stop offset="0.714" stop-color="rgb(150,150,150)"/><stop offset="0.731" stop-color="rgb(113,113,113)"/><stop offset="0.747" stop-color="rgb(94,94,94)"/><stop offset="0.786" stop-color="rgb(79,79,79)"/><stop offset="0.879" stop-color="rgb(57,57,57)"/><stop offset="1.000" stop-color="rgb(36,36,36)"/></linearGradient>
<linearGradient id="cbar" x1="0" x2="1" y1="0" y2="0">
<stop offset="0" stop-color="#00008c"/><stop offset="0.11" stop-color="#000ad2"/><stop offset="0.36" stop-color="#14dce6"/><stop offset="0.5" stop-color="#82f078"/><stop offset="0.62" stop-color="#f5eb0a"/><stop offset="0.75" stop-color="#fa8200"/><stop offset="0.87" stop-color="#e1140f"/><stop offset="1" stop-color="#8c0000"/></linearGradient>
</defs>
<g filter="url(#jet)"><svg x="20.0" y="240.6" width="71.7" height="91.2" viewBox="20.0 240.6 71.7 91.2" overflow="hidden"><rect x="20.0" y="240.6" width="71.7" height="91.2" fill="#000"/><ellipse cx="55.8" cy="306.5" rx="6" ry="16" fill="rgb(46,46,46)" filter="url(#bl0)"/><ellipse cx="55.5" cy="306.5" rx="3.6" ry="10" fill="rgb(89,89,89)" filter="url(#bl1)"/><ellipse cx="56.3" cy="306.7" rx="1.7" ry="4.5" fill="rgb(148,148,148)" filter="url(#bl2)"/><ellipse cx="56.7" cy="306.7" rx="1.2" ry="3" fill="rgb(217,217,217)" filter="url(#bl3)"/></svg><svg x="98.3" y="240.6" width="71.7" height="91.2" viewBox="98.3 240.6 71.7 91.2" overflow="hidden"><rect x="98.3" y="240.6" width="71.7" height="91.2" fill="#000"/><polygon points="129,322 122,274 145,274 138,322" fill="rgb(31,31,31)" filter="url(#bl4)"/><polygon points="131,318 127,286 140,286 137,318" fill="rgb(56,56,56)" filter="url(#bl0)"/><polygon points="131,314 130,298 132.5,292 135,294 135.5,314" fill="rgb(89,89,89)" filter="url(#bl5)"/><ellipse cx="134.3" cy="305.8" rx="1.6" ry="3.8" fill="rgb(140,140,140)" filter="url(#bl2)"/><ellipse cx="134.8" cy="305.8" rx="1" ry="2" fill="rgb(204,204,204)" filter="url(#bl3)"/></svg><svg x="176.2" y="240.6" width="71.7" height="91.2" viewBox="176.2 240.6 71.7 91.2" overflow="hidden"><rect x="176.2" y="240.6" width="71.7" height="91.2" fill="#000"/><polygon points="204,326 196,262 225,262 217,326" fill="rgb(31,31,31)" filter="url(#bl4)"/><polygon points="207,322 199,272 222,272 214,322" fill="rgb(56,56,56)" filter="url(#bl6)"/><polygon points="206,316 203,292 206,282 212,284 213,316" fill="rgb(89,89,89)" filter="url(#bl7)"/><ellipse cx="211.8" cy="304.4" rx="1.9" ry="4.3" fill="rgb(143,143,143)" filter="url(#bl2)"/><ellipse cx="212.3" cy="304.4" rx="1.0" ry="2.0" fill="rgb(209,209,209)" filter="url(#bl3)"/></svg><svg x="255.0" y="240.6" width="71.7" height="91.2" viewBox="255.0 240.6 71.7 91.2" overflow="hidden"><rect x="255.0" y="240.6" width="71.7" height="91.2" fill="#000"/><polygon points="282,334 264,241 312,241 299,334" fill="rgb(23,23,23)" filter="url(#bl8)"/><polygon points="284,332 275,262 302,262 297,332" fill="rgb(51,51,51)" filter="url(#bl9)"/><polygon points="285,328 280,280 286,272 295,276 295,328" fill="rgb(94,94,94)" filter="url(#bl6)"/><ellipse cx="289" cy="301" rx="2.8" ry="6" fill="rgb(148,148,148)" filter="url(#bl5)"/><ellipse cx="291.8" cy="302.5" rx="2" ry="4" fill="rgb(189,189,189)" filter="url(#bl10)"/><ellipse cx="291.5" cy="303" rx="1.1" ry="2.2" fill="rgb(219,219,219)" filter="url(#bl11)"/></svg><svg x="333.3" y="240.6" width="71.7" height="91.2" viewBox="333.3 240.6 71.7 91.2" overflow="hidden"><rect x="333.3" y="240.6" width="71.7" height="91.2" fill="#000"/><svg x="333.3" y="240.6" width="35.3" height="91.2" viewBox="333.3 240.6 35.3 91.2" overflow="hidden"><polygon points="356,334 336,240 370,240 370,334" fill="rgb(26,26,26)" filter="url(#bl8)"/><polygon points="359,334 344,252 370,252 370,334" fill="rgb(61,61,61)" filter="url(#bl12)"/><polygon points="362,330 351,270 354,258 370,258 370,330" fill="rgb(97,97,97)" filter="url(#bl6)"/><polygon points="364,306 359,282 360,267 365,262 370,264 370,306" fill="rgb(158,158,158)" filter="url(#bl0)"/><polygon points="366,306 364,290 367,282 370,284 370,306" fill="rgb(189,189,189)" filter="url(#bl13)"/><ellipse cx="368.5" cy="299" rx="2.5" ry="5" fill="rgb(219,219,219)" filter="url(#bl10)"/></svg><svg x="368.6" y="240.6" width="36.4" height="91.2" viewBox="368.6 240.6 36.4 91.2" overflow="hidden"><polygon points="368,334 368,240 396,240 382,334" fill="rgb(26,26,26)" filter="url(#bl8)"/><polygon points="368,334 368,250 384,250 375,334" fill="rgb(66,66,66)" filter="url(#bl12)"/><polygon points="368,328 368,266 376,270 374,328" fill="rgb(94,94,94)" filter="url(#bl0)"/><ellipse cx="370.5" cy="298" rx="2" ry="4" fill="rgb(184,184,184)" filter="url(#bl2)"/><ellipse cx="369.8" cy="299" rx="1.2" ry="2.5" fill="rgb(214,214,214)" filter="url(#bl11)"/></svg></svg></g><line x1="56.0" y1="241.1" x2="56.0" y2="331.8" stroke="#101070" stroke-width="1"/><line x1="56.0" y1="242.1" x2="56.0" y2="331.8" stroke="#d4d4f8" stroke-width="1" stroke-dasharray="1.3 1.5"/><line x1="133.9" y1="241.1" x2="133.9" y2="331.8" stroke="#101070" stroke-width="1"/><line x1="133.9" y1="242.1" x2="133.9" y2="331.8" stroke="#d4d4f8" stroke-width="1" stroke-dasharray="1.3 1.5"/><line x1="210.7" y1="241.1" x2="210.7" y2="331.8" stroke="#101070" stroke-width="1"/><line x1="210.7" y1="242.1" x2="210.7" y2="331.8" stroke="#d4d4f8" stroke-width="1" stroke-dasharray="1.3 1.5"/><line x1="290.6" y1="241.1" x2="290.6" y2="331.8" stroke="#101070" stroke-width="1"/><line x1="290.6" y1="242.1" x2="290.6" y2="331.8" stroke="#d4d4f8" stroke-width="1" stroke-dasharray="1.3 1.5"/><line x1="368.6" y1="241.1" x2="368.6" y2="331.8" stroke="#101070" stroke-width="1"/><line x1="368.6" y1="242.1" x2="368.6" y2="331.8" stroke="#d4d4f8" stroke-width="1" stroke-dasharray="1.3 1.5"/><g filter="url(#jet)"><svg x="442.5" y="239.7" width="166.8" height="89.7" viewBox="442.5 239.7 166.8 89.7" overflow="hidden"><rect x="442.5" y="239.7" width="166.8" height="89.7" fill="#000"/><rect x="442" y="239" width="2" height="91" fill="url(#dg0)"/><rect x="444" y="239" width="2" height="91" fill="url(#dg1)"/><rect x="446" y="239" width="2" height="91" fill="url(#dg2)"/><rect x="448" y="239" width="2" height="91" fill="url(#dg3)"/><rect x="450" y="239" width="2" height="91" fill="url(#dg4)"/><rect x="452" y="239" width="2" height="91" fill="url(#dg5)"/><rect x="454" y="239" width="2" height="91" fill="url(#dg6)"/><rect x="456" y="239" width="2" height="91" fill="url(#dg7)"/><rect x="458" y="239" width="2" height="91" fill="url(#dg8)"/><rect x="460" y="239" width="2" height="91" fill="url(#dg9)"/><rect x="462" y="239" width="2" height="91" fill="url(#dg10)"/><rect x="464" y="239" width="2" height="91" fill="url(#dg11)"/><rect x="466" y="239" width="2" height="91" fill="url(#dg12)"/><rect x="468" y="239" width="2" height="91" fill="url(#dg13)"/><rect x="470" y="239" width="2" height="91" fill="url(#dg14)"/><rect x="472" y="239" width="2" height="91" fill="url(#dg15)"/><rect x="474" y="239" width="2" height="91" fill="url(#dg16)"/><rect x="476" y="239" width="2" height="91" fill="url(#dg17)"/><rect x="478" y="239" width="2" height="91" fill="url(#dg18)"/><rect x="480" y="239" width="2" height="91" fill="url(#dg19)"/><rect x="482" y="239" width="2" height="91" fill="url(#dg20)"/><rect x="484" y="239" width="2" height="91" fill="url(#dg21)"/><rect x="486" y="239" width="2" height="91" fill="url(#dg22)"/><rect x="488" y="239" width="2" height="91" fill="url(#dg23)"/><rect x="490" y="239" width="2" height="91" fill="url(#dg24)"/><rect x="492" y="239" width="2" height="91" fill="url(#dg25)"/><rect x="494" y="239" width="2" height="91" fill="url(#dg26)"/><rect x="496" y="239" width="2" height="91" fill="url(#dg27)"/><rect x="498" y="239" width="2" height="91" fill="url(#dg28)"/><rect x="500" y="239" width="2" height="91" fill="url(#dg29)"/><rect x="502" y="239" width="2" height="91" fill="url(#dg30)"/><rect x="504" y="239" width="2" height="91" fill="url(#dg31)"/><rect x="506" y="239" width="2" height="91" fill="url(#dg32)"/><rect x="508" y="239" width="2" height="91" fill="url(#dg33)"/><rect x="510" y="239" width="2" height="91" fill="url(#dg34)"/><rect x="512" y="239" width="2" height="91" fill="url(#dg35)"/><rect x="514" y="239" width="2" height="91" fill="url(#dg36)"/><rect x="516" y="239" width="2" height="91" fill="url(#dg37)"/><rect x="518" y="239" width="2" height="91" fill="url(#dg38)"/><rect x="520" y="239" width="2" height="91" fill="url(#dg39)"/><rect x="522" y="239" width="2" height="91" fill="url(#dg40)"/><rect x="524" y="239" width="2" height="91" fill="url(#dg41)"/><rect x="526" y="239" width="2" height="91" fill="url(#dg42)"/><rect x="528" y="239" width="2" height="91" fill="url(#dg43)"/><rect x="530" y="239" width="2" height="91" fill="url(#dg44)"/><rect x="532" y="239" width="2" height="91" fill="url(#dg45)"/><rect x="534" y="239" width="2" height="91" fill="url(#dg46)"/><rect x="536" y="239" width="2" height="91" fill="url(#dg47)"/><rect x="538" y="239" width="2" height="91" fill="url(#dg48)"/><rect x="540" y="239" width="2" height="91" fill="url(#dg49)"/><rect x="542" y="239" width="2" height="91" fill="url(#dg50)"/><rect x="544" y="239" width="2" height="91" fill="url(#dg51)"/><rect x="546" y="239" width="2" height="91" fill="url(#dg52)"/><rect x="548" y="239" width="2" height="91" fill="url(#dg53)"/><rect x="550" y="239" width="2" height="91" fill="url(#dg54)"/><rect x="552" y="239" width="2" height="91" fill="url(#dg55)"/><rect x="554" y="239" width="2" height="91" fill="url(#dg56)"/><rect x="556" y="239" width="2" height="91" fill="url(#dg57)"/><rect x="558" y="239" width="2" height="91" fill="url(#dg58)"/><rect x="560" y="239" width="2" height="91" fill="url(#dg59)"/><rect x="562" y="239" width="2" height="91" fill="url(#dg60)"/><rect x="564" y="239" width="2" height="91" fill="url(#dg61)"/><rect x="566" y="239" width="2" height="91" fill="url(#dg62)"/><rect x="568" y="239" width="2" height="91" fill="url(#dg63)"/><rect x="570" y="239" width="2" height="91" fill="url(#dg64)"/><rect x="572" y="239" width="2" height="91" fill="url(#dg65)"/><rect x="574" y="239" width="2" height="91" fill="url(#dg66)"/><rect x="576" y="239" width="2" height="91" fill="url(#dg67)"/><rect x="578" y="239" width="2" height="91" fill="url(#dg68)"/><rect x="580" y="239" width="2" height="91" fill="url(#dg69)"/><rect x="582" y="239" width="2" height="91" fill="url(#dg70)"/><rect x="584" y="239" width="2" height="91" fill="url(#dg71)"/><rect x="586" y="239" width="2" height="91" fill="url(#dg72)"/><rect x="588" y="239" width="2" height="91" fill="url(#dg73)"/><rect x="590" y="239" width="2" height="91" fill="url(#dg74)"/><rect x="592" y="239" width="2" height="91" fill="url(#dg75)"/><rect x="594" y="239" width="2" height="91" fill="url(#dg76)"/><rect x="596" y="239" width="2" height="91" fill="url(#dg77)"/><rect x="598" y="239" width="2" height="91" fill="url(#dg78)"/><rect x="600" y="239" width="2" height="91" fill="url(#dg79)"/><rect x="602" y="239" width="2" height="91" fill="url(#dg80)"/><rect x="604" y="239" width="2" height="91" fill="url(#dg81)"/><rect x="606" y="239" width="2" height="91" fill="url(#dg82)"/><rect x="608" y="239" width="2" height="91" fill="url(#dg83)"/><polygon points="535,265.1 610,264.9 610,266.0 535,266.0" fill="rgb(23,23,23)" filter="url(#bl14)"/><polygon points="560,275.0 610,274.9 610,275.8 560,275.8" fill="rgb(55,55,55)" filter="url(#bl14)"/><ellipse cx="479" cy="303.79165283065294" rx="10" ry="1.6" fill="rgb(242,242,242)" filter="url(#bl11)"/><ellipse cx="510" cy="302.73898359315285" rx="2.2" ry="1.6" fill="rgb(230,230,230)" filter="url(#bl11)"/><ellipse cx="522" cy="302.3972548942671" rx="2.2" ry="1.6" fill="rgb(224,224,224)" filter="url(#bl11)"/><ellipse cx="532" cy="302.1300953222836" rx="2.2" ry="1.6" fill="rgb(219,219,219)" filter="url(#bl11)"/><ellipse cx="545" cy="301.8020143340798" rx="2" ry="1.6" fill="rgb(209,209,209)" filter="url(#bl11)"/><ellipse cx="561" cy="301.4224712159714" rx="2.5" ry="1.8" fill="rgb(194,194,194)" filter="url(#bl11)"/><ellipse cx="571" cy="301.1965635905639" rx="2.5" ry="1.8" fill="rgb(189,189,189)" filter="url(#bl11)"/><ellipse cx="587" cy="300.85032587969505" rx="1.5" ry="1.8" fill="rgb(184,184,184)" filter="url(#bl11)"/><ellipse cx="599" cy="300.6013359114446" rx="2" ry="1.8" fill="rgb(184,184,184)" filter="url(#bl11)"/></svg></g>
<rect x="42.4" y="3.3" width="221.99999999999997" height="172.1" fill="none" stroke="#4a4a4a" stroke-width="1.15"/><line x1="92.85" y1="175.4" x2="92.85" y2="172.4" stroke="#4a4a4a" stroke-width="1"/><line x1="92.85" y1="3.3" x2="92.85" y2="6.3" stroke="#4a4a4a" stroke-width="1"/><line x1="143.31" y1="175.4" x2="143.31" y2="172.4" stroke="#4a4a4a" stroke-width="1"/><line x1="143.31" y1="3.3" x2="143.31" y2="6.3" stroke="#4a4a4a" stroke-width="1"/><line x1="193.76" y1="175.4" x2="193.76" y2="172.4" stroke="#4a4a4a" stroke-width="1"/><line x1="193.76" y1="3.3" x2="193.76" y2="6.3" stroke="#4a4a4a" stroke-width="1"/><line x1="244.22" y1="175.4" x2="244.22" y2="172.4" stroke="#4a4a4a" stroke-width="1"/><line x1="244.22" y1="3.3" x2="244.22" y2="6.3" stroke="#4a4a4a" stroke-width="1"/><line x1="42.4" y1="146.72" x2="45.4" y2="146.72" stroke="#4a4a4a" stroke-width="1"/><line x1="264.4" y1="146.72" x2="261.4" y2="146.72" stroke="#4a4a4a" stroke-width="1"/><line x1="42.4" y1="118.03" x2="45.4" y2="118.03" stroke="#4a4a4a" stroke-width="1"/><line x1="264.4" y1="118.03" x2="261.4" y2="118.03" stroke="#4a4a4a" stroke-width="1"/><line x1="42.4" y1="89.35" x2="45.4" y2="89.35" stroke="#4a4a4a" stroke-width="1"/><line x1="264.4" y1="89.35" x2="261.4" y2="89.35" stroke="#4a4a4a" stroke-width="1"/><line x1="42.4" y1="60.67" x2="45.4" y2="60.67" stroke="#4a4a4a" stroke-width="1"/><line x1="264.4" y1="60.67" x2="261.4" y2="60.67" stroke="#4a4a4a" stroke-width="1"/><line x1="42.4" y1="31.98" x2="45.4" y2="31.98" stroke="#4a4a4a" stroke-width="1"/><line x1="264.4" y1="31.98" x2="261.4" y2="31.98" stroke="#4a4a4a" stroke-width="1"/><polyline points="42.40,175.40 46.84,143.06 51.28,133.10 55.72,124.49 60.16,114.50 64.60,109.24 69.04,105.80 73.48,103.86 77.92,100.35 82.36,99.78 86.80,97.49 91.24,96.77 95.68,95.25 100.12,93.09 104.56,90.79 109.00,90.77 113.44,89.09 117.88,87.04 122.32,85.17 126.76,84.72 131.20,83.88 135.64,81.49 140.08,82.22 144.52,79.34 148.96,79.32 153.40,78.96 157.84,78.59 162.28,77.78 166.72,76.31 171.16,77.20 175.60,75.95 180.04,75.41 184.48,75.54 188.92,74.78 193.36,75.43 197.80,75.11 202.24,74.47 206.68,73.16 211.12,73.36 215.56,73.26 220.00,72.37 224.44,72.31 228.88,72.30 233.32,71.13 237.76,71.25 242.20,72.11 246.64,71.35 251.08,71.35 255.52,70.50 259.96,70.63" fill="none" stroke="#0072BD" stroke-width="1.3" stroke-linejoin="round"/><circle cx="42.40" cy="175.40" r="1.85" fill="#0072BD"/><circle cx="46.84" cy="143.06" r="1.85" fill="#0072BD"/><circle cx="51.28" cy="133.10" r="1.85" fill="#0072BD"/><circle cx="55.72" cy="124.49" r="1.85" fill="#0072BD"/><circle cx="60.16" cy="114.50" r="1.85" fill="#0072BD"/><circle cx="64.60" cy="109.24" r="1.85" fill="#0072BD"/><circle cx="69.04" cy="105.80" r="1.85" fill="#0072BD"/><circle cx="73.48" cy="103.86" r="1.85" fill="#0072BD"/><circle cx="77.92" cy="100.35" r="1.85" fill="#0072BD"/><circle cx="82.36" cy="99.78" r="1.85" fill="#0072BD"/><circle cx="86.80" cy="97.49" r="1.85" fill="#0072BD"/><circle cx="91.24" cy="96.77" r="1.85" fill="#0072BD"/><circle cx="95.68" cy="95.25" r="1.85" fill="#0072BD"/><circle cx="100.12" cy="93.09" r="1.85" fill="#0072BD"/><circle cx="104.56" cy="90.79" r="1.85" fill="#0072BD"/><circle cx="109.00" cy="90.77" r="1.85" fill="#0072BD"/><circle cx="113.44" cy="89.09" r="1.85" fill="#0072BD"/><circle cx="117.88" cy="87.04" r="1.85" fill="#0072BD"/><circle cx="122.32" cy="85.17" r="1.85" fill="#0072BD"/><circle cx="126.76" cy="84.72" r="1.85" fill="#0072BD"/><circle cx="131.20" cy="83.88" r="1.85" fill="#0072BD"/><circle cx="135.64" cy="81.49" r="1.85" fill="#0072BD"/><circle cx="140.08" cy="82.22" r="1.85" fill="#0072BD"/><circle cx="144.52" cy="79.34" r="1.85" fill="#0072BD"/><circle cx="148.96" cy="79.32" r="1.85" fill="#0072BD"/><circle cx="153.40" cy="78.96" r="1.85" fill="#0072BD"/><circle cx="157.84" cy="78.59" r="1.85" fill="#0072BD"/><circle cx="162.28" cy="77.78" r="1.85" fill="#0072BD"/><circle cx="166.72" cy="76.31" r="1.85" fill="#0072BD"/><circle cx="171.16" cy="77.20" r="1.85" fill="#0072BD"/><circle cx="175.60" cy="75.95" r="1.85" fill="#0072BD"/><circle cx="180.04" cy="75.41" r="1.85" fill="#0072BD"/><circle cx="184.48" cy="75.54" r="1.85" fill="#0072BD"/><circle cx="188.92" cy="74.78" r="1.85" fill="#0072BD"/><circle cx="193.36" cy="75.43" r="1.85" fill="#0072BD"/><circle cx="197.80" cy="75.11" r="1.85" fill="#0072BD"/><circle cx="202.24" cy="74.47" r="1.85" fill="#0072BD"/><circle cx="206.68" cy="73.16" r="1.85" fill="#0072BD"/><circle cx="211.12" cy="73.36" r="1.85" fill="#0072BD"/><circle cx="215.56" cy="73.26" r="1.85" fill="#0072BD"/><circle cx="220.00" cy="72.37" r="1.85" fill="#0072BD"/><circle cx="224.44" cy="72.31" r="1.85" fill="#0072BD"/><circle cx="228.88" cy="72.30" r="1.85" fill="#0072BD"/><circle cx="233.32" cy="71.13" r="1.85" fill="#0072BD"/><circle cx="237.76" cy="71.25" r="1.85" fill="#0072BD"/><circle cx="242.20" cy="72.11" r="1.85" fill="#0072BD"/><circle cx="246.64" cy="71.35" r="1.85" fill="#0072BD"/><circle cx="251.08" cy="71.35" r="1.85" fill="#0072BD"/><circle cx="255.52" cy="70.50" r="1.85" fill="#0072BD"/><circle cx="259.96" cy="70.63" r="1.85" fill="#0072BD"/><polyline points="42.40,175.40 46.84,141.42 51.28,124.50 55.72,119.40 60.16,112.06 64.60,105.00 69.04,101.26 73.48,96.65 77.92,93.67 82.36,90.73 86.80,89.06 91.24,87.98 95.68,85.89 100.12,85.82 104.56,83.82 109.00,82.82 113.44,81.64 117.88,80.90 122.32,79.11 126.76,77.90 131.20,77.87 135.64,76.09 140.08,75.94 144.52,73.22 148.96,71.94 153.40,70.52 157.84,70.49 162.28,71.23 166.72,70.64 171.16,69.67 175.60,70.63 180.04,69.35 184.48,69.57 188.92,69.30 193.36,69.08 197.80,67.31 202.24,68.31 206.68,67.76 211.12,67.15 215.56,65.85 220.00,67.17 224.44,66.10 228.88,65.58 233.32,64.81 237.76,64.94 242.20,64.85 246.64,66.06 251.08,65.72 255.52,65.72 259.96,64.63" fill="none" stroke="#D95319" stroke-width="1.3" stroke-linejoin="round"/><circle cx="42.40" cy="175.40" r="1.85" fill="#D95319"/><circle cx="46.84" cy="141.42" r="1.85" fill="#D95319"/><circle cx="51.28" cy="124.50" r="1.85" fill="#D95319"/><circle cx="55.72" cy="119.40" r="1.85" fill="#D95319"/><circle cx="60.16" cy="112.06" r="1.85" fill="#D95319"/><circle cx="64.60" cy="105.00" r="1.85" fill="#D95319"/><circle cx="69.04" cy="101.26" r="1.85" fill="#D95319"/><circle cx="73.48" cy="96.65" r="1.85" fill="#D95319"/><circle cx="77.92" cy="93.67" r="1.85" fill="#D95319"/><circle cx="82.36" cy="90.73" r="1.85" fill="#D95319"/><circle cx="86.80" cy="89.06" r="1.85" fill="#D95319"/><circle cx="91.24" cy="87.98" r="1.85" fill="#D95319"/><circle cx="95.68" cy="85.89" r="1.85" fill="#D95319"/><circle cx="100.12" cy="85.82" r="1.85" fill="#D95319"/><circle cx="104.56" cy="83.82" r="1.85" fill="#D95319"/><circle cx="109.00" cy="82.82" r="1.85" fill="#D95319"/><circle cx="113.44" cy="81.64" r="1.85" fill="#D95319"/><circle cx="117.88" cy="80.90" r="1.85" fill="#D95319"/><circle cx="122.32" cy="79.11" r="1.85" fill="#D95319"/><circle cx="126.76" cy="77.90" r="1.85" fill="#D95319"/><circle cx="131.20" cy="77.87" r="1.85" fill="#D95319"/><circle cx="135.64" cy="76.09" r="1.85" fill="#D95319"/><circle cx="140.08" cy="75.94" r="1.85" fill="#D95319"/><circle cx="144.52" cy="73.22" r="1.85" fill="#D95319"/><circle cx="148.96" cy="71.94" r="1.85" fill="#D95319"/><circle cx="153.40" cy="70.52" r="1.85" fill="#D95319"/><circle cx="157.84" cy="70.49" r="1.85" fill="#D95319"/><circle cx="162.28" cy="71.23" r="1.85" fill="#D95319"/><circle cx="166.72" cy="70.64" r="1.85" fill="#D95319"/><circle cx="171.16" cy="69.67" r="1.85" fill="#D95319"/><circle cx="175.60" cy="70.63" r="1.85" fill="#D95319"/><circle cx="180.04" cy="69.35" r="1.85" fill="#D95319"/><circle cx="184.48" cy="69.57" r="1.85" fill="#D95319"/><circle cx="188.92" cy="69.30" r="1.85" fill="#D95319"/><circle cx="193.36" cy="69.08" r="1.85" fill="#D95319"/><circle cx="197.80" cy="67.31" r="1.85" fill="#D95319"/><circle cx="202.24" cy="68.31" r="1.85" fill="#D95319"/><circle cx="206.68" cy="67.76" r="1.85" fill="#D95319"/><circle cx="211.12" cy="67.15" r="1.85" fill="#D95319"/><circle cx="215.56" cy="65.85" r="1.85" fill="#D95319"/><circle cx="220.00" cy="67.17" r="1.85" fill="#D95319"/><circle cx="224.44" cy="66.10" r="1.85" fill="#D95319"/><circle cx="228.88" cy="65.58" r="1.85" fill="#D95319"/><circle cx="233.32" cy="64.81" r="1.85" fill="#D95319"/><circle cx="237.76" cy="64.94" r="1.85" fill="#D95319"/><circle cx="242.20" cy="64.85" r="1.85" fill="#D95319"/><circle cx="246.64" cy="66.06" r="1.85" fill="#D95319"/><circle cx="251.08" cy="65.72" r="1.85" fill="#D95319"/><circle cx="255.52" cy="65.72" r="1.85" fill="#D95319"/><circle cx="259.96" cy="64.63" r="1.85" fill="#D95319"/><polyline points="42.40,175.40 46.84,140.03 51.28,124.49 55.72,112.39 60.16,103.67 64.60,99.19 69.04,93.86 73.48,90.15 77.92,87.32 82.36,86.25 86.80,83.92 91.24,82.55 95.68,80.67 100.12,78.16 104.56,76.97 109.00,75.60 113.44,73.66 117.88,72.82 122.32,73.41 126.76,70.97 131.20,70.53 135.64,69.22 140.08,68.26 144.52,67.98 148.96,66.85 153.40,66.73 157.84,65.09 162.28,65.73 166.72,65.17 171.16,64.33 175.60,63.88 180.04,62.96 184.48,63.01 188.92,62.66 193.36,61.98 197.80,61.74 202.24,60.85 206.68,61.19 211.12,59.09 215.56,59.28 220.00,59.89 224.44,59.33 228.88,58.78 233.32,58.65 237.76,59.15 242.20,57.65 246.64,57.35 251.08,58.44 255.52,58.41 259.96,59.40" fill="none" stroke="#EDB120" stroke-width="1.3" stroke-linejoin="round"/><circle cx="42.40" cy="175.40" r="1.85" fill="#EDB120"/><circle cx="46.84" cy="140.03" r="1.85" fill="#EDB120"/><circle cx="51.28" cy="124.49" r="1.85" fill="#EDB120"/><circle cx="55.72" cy="112.39" r="1.85" fill="#EDB120"/><circle cx="60.16" cy="103.67" r="1.85" fill="#EDB120"/><circle cx="64.60" cy="99.19" r="1.85" fill="#EDB120"/><circle cx="69.04" cy="93.86" r="1.85" fill="#EDB120"/><circle cx="73.48" cy="90.15" r="1.85" fill="#EDB120"/><circle cx="77.92" cy="87.32" r="1.85" fill="#EDB120"/><circle cx="82.36" cy="86.25" r="1.85" fill="#EDB120"/><circle cx="86.80" cy="83.92" r="1.85" fill="#EDB120"/><circle cx="91.24" cy="82.55" r="1.85" fill="#EDB120"/><circle cx="95.68" cy="80.67" r="1.85" fill="#EDB120"/><circle cx="100.12" cy="78.16" r="1.85" fill="#EDB120"/><circle cx="104.56" cy="76.97" r="1.85" fill="#EDB120"/><circle cx="109.00" cy="75.60" r="1.85" fill="#EDB120"/><circle cx="113.44" cy="73.66" r="1.85" fill="#EDB120"/><circle cx="117.88" cy="72.82" r="1.85" fill="#EDB120"/><circle cx="122.32" cy="73.41" r="1.85" fill="#EDB120"/><circle cx="126.76" cy="70.97" r="1.85" fill="#EDB120"/><circle cx="131.20" cy="70.53" r="1.85" fill="#EDB120"/><circle cx="135.64" cy="69.22" r="1.85" fill="#EDB120"/><circle cx="140.08" cy="68.26" r="1.85" fill="#EDB120"/><circle cx="144.52" cy="67.98" r="1.85" fill="#EDB120"/><circle cx="148.96" cy="66.85" r="1.85" fill="#EDB120"/><circle cx="153.40" cy="66.73" r="1.85" fill="#EDB120"/><circle cx="157.84" cy="65.09" r="1.85" fill="#EDB120"/><circle cx="162.28" cy="65.73" r="1.85" fill="#EDB120"/><circle cx="166.72" cy="65.17" r="1.85" fill="#EDB120"/><circle cx="171.16" cy="64.33" r="1.85" fill="#EDB120"/><circle cx="175.60" cy="63.88" r="1.85" fill="#EDB120"/><circle cx="180.04" cy="62.96" r="1.85" fill="#EDB120"/><circle cx="184.48" cy="63.01" r="1.85" fill="#EDB120"/><circle cx="188.92" cy="62.66" r="1.85" fill="#EDB120"/><circle cx="193.36" cy="61.98" r="1.85" fill="#EDB120"/><circle cx="197.80" cy="61.74" r="1.85" fill="#EDB120"/><circle cx="202.24" cy="60.85" r="1.85" fill="#EDB120"/><circle cx="206.68" cy="61.19" r="1.85" fill="#EDB120"/><circle cx="211.12" cy="59.09" r="1.85" fill="#EDB120"/><circle cx="215.56" cy="59.28" r="1.85" fill="#EDB120"/><circle cx="220.00" cy="59.89" r="1.85" fill="#EDB120"/><circle cx="224.44" cy="59.33" r="1.85" fill="#EDB120"/><circle cx="228.88" cy="58.78" r="1.85" fill="#EDB120"/><circle cx="233.32" cy="58.65" r="1.85" fill="#EDB120"/><circle cx="237.76" cy="59.15" r="1.85" fill="#EDB120"/><circle cx="242.20" cy="57.65" r="1.85" fill="#EDB120"/><circle cx="246.64" cy="57.35" r="1.85" fill="#EDB120"/><circle cx="251.08" cy="58.44" r="1.85" fill="#EDB120"/><circle cx="255.52" cy="58.41" r="1.85" fill="#EDB120"/><circle cx="259.96" cy="59.40" r="1.85" fill="#EDB120"/><polyline points="42.40,175.40 46.84,135.95 51.28,116.52 55.72,105.32 60.16,95.55 64.60,91.77 69.04,88.61 73.48,81.95 77.92,78.08 82.36,76.98 86.80,74.47 91.24,73.85 95.68,71.13 100.12,68.67 104.56,67.40 109.00,66.23 113.44,65.61 117.88,64.43 122.32,63.89 126.76,61.69 131.20,61.23 135.64,59.57 140.08,59.34 144.52,58.40 148.96,56.03 153.40,54.88 157.84,54.52 162.28,53.98 166.72,53.33 171.16,52.86 175.60,53.29 180.04,52.05 184.48,51.76 188.92,51.83 193.36,51.24 197.80,50.09 202.24,49.52 206.68,48.00 211.12,46.83 215.56,47.26 220.00,45.63 224.44,44.90 228.88,44.35 233.32,45.08 237.76,44.94 242.20,44.49 246.64,44.11 251.08,43.63 255.52,42.25 259.96,41.02" fill="none" stroke="#7E2F8E" stroke-width="1.3" stroke-linejoin="round"/><circle cx="42.40" cy="175.40" r="1.85" fill="#7E2F8E"/><circle cx="46.84" cy="135.95" r="1.85" fill="#7E2F8E"/><circle cx="51.28" cy="116.52" r="1.85" fill="#7E2F8E"/><circle cx="55.72" cy="105.32" r="1.85" fill="#7E2F8E"/><circle cx="60.16" cy="95.55" r="1.85" fill="#7E2F8E"/><circle cx="64.60" cy="91.77" r="1.85" fill="#7E2F8E"/><circle cx="69.04" cy="88.61" r="1.85" fill="#7E2F8E"/><circle cx="73.48" cy="81.95" r="1.85" fill="#7E2F8E"/><circle cx="77.92" cy="78.08" r="1.85" fill="#7E2F8E"/><circle cx="82.36" cy="76.98" r="1.85" fill="#7E2F8E"/><circle cx="86.80" cy="74.47" r="1.85" fill="#7E2F8E"/><circle cx="91.24" cy="73.85" r="1.85" fill="#7E2F8E"/><circle cx="95.68" cy="71.13" r="1.85" fill="#7E2F8E"/><circle cx="100.12" cy="68.67" r="1.85" fill="#7E2F8E"/><circle cx="104.56" cy="67.40" r="1.85" fill="#7E2F8E"/><circle cx="109.00" cy="66.23" r="1.85" fill="#7E2F8E"/><circle cx="113.44" cy="65.61" r="1.85" fill="#7E2F8E"/><circle cx="117.88" cy="64.43" r="1.85" fill="#7E2F8E"/><circle cx="122.32" cy="63.89" r="1.85" fill="#7E2F8E"/><circle cx="126.76" cy="61.69" r="1.85" fill="#7E2F8E"/><circle cx="131.20" cy="61.23" r="1.85" fill="#7E2F8E"/><circle cx="135.64" cy="59.57" r="1.85" fill="#7E2F8E"/><circle cx="140.08" cy="59.34" r="1.85" fill="#7E2F8E"/><circle cx="144.52" cy="58.40" r="1.85" fill="#7E2F8E"/><circle cx="148.96" cy="56.03" r="1.85" fill="#7E2F8E"/><circle cx="153.40" cy="54.88" r="1.85" fill="#7E2F8E"/><circle cx="157.84" cy="54.52" r="1.85" fill="#7E2F8E"/><circle cx="162.28" cy="53.98" r="1.85" fill="#7E2F8E"/><circle cx="166.72" cy="53.33" r="1.85" fill="#7E2F8E"/><circle cx="171.16" cy="52.86" r="1.85" fill="#7E2F8E"/><circle cx="175.60" cy="53.29" r="1.85" fill="#7E2F8E"/><circle cx="180.04" cy="52.05" r="1.85" fill="#7E2F8E"/><circle cx="184.48" cy="51.76" r="1.85" fill="#7E2F8E"/><circle cx="188.92" cy="51.83" r="1.85" fill="#7E2F8E"/><circle cx="193.36" cy="51.24" r="1.85" fill="#7E2F8E"/><circle cx="197.80" cy="50.09" r="1.85" fill="#7E2F8E"/><circle cx="202.24" cy="49.52" r="1.85" fill="#7E2F8E"/><circle cx="206.68" cy="48.00" r="1.85" fill="#7E2F8E"/><circle cx="211.12" cy="46.83" r="1.85" fill="#7E2F8E"/><circle cx="215.56" cy="47.26" r="1.85" fill="#7E2F8E"/><circle cx="220.00" cy="45.63" r="1.85" fill="#7E2F8E"/><circle cx="224.44" cy="44.90" r="1.85" fill="#7E2F8E"/><circle cx="228.88" cy="44.35" r="1.85" fill="#7E2F8E"/><circle cx="233.32" cy="45.08" r="1.85" fill="#7E2F8E"/><circle cx="237.76" cy="44.94" r="1.85" fill="#7E2F8E"/><circle cx="242.20" cy="44.49" r="1.85" fill="#7E2F8E"/><circle cx="246.64" cy="44.11" r="1.85" fill="#7E2F8E"/><circle cx="251.08" cy="43.63" r="1.85" fill="#7E2F8E"/><circle cx="255.52" cy="42.25" r="1.85" fill="#7E2F8E"/><circle cx="259.96" cy="41.02" r="1.85" fill="#7E2F8E"/><polyline points="42.40,175.40 46.84,140.28 51.28,122.09 55.72,107.97 60.16,97.34 64.60,90.21 69.04,82.13 73.48,77.46 77.92,73.56 82.36,70.84 86.80,68.72 91.24,66.66 95.68,62.72 100.12,62.13 104.56,59.69 109.00,57.87 113.44,57.59 117.88,56.57 122.32,54.45 126.76,53.91 131.20,54.06 135.64,52.76 140.08,51.31 144.52,48.36 148.96,47.17 153.40,47.62 157.84,45.52 162.28,44.50 166.72,44.48 171.16,44.42 175.60,43.31 180.04,43.48 184.48,43.03 188.92,40.33 193.36,40.29 197.80,39.88 202.24,38.38 206.68,38.76 211.12,37.19 215.56,36.63 220.00,37.24 224.44,36.49 228.88,35.75 233.32,35.30 237.76,34.07 242.20,34.22 246.64,33.37 251.08,33.46 255.52,31.34 259.96,31.83" fill="none" stroke="#77AC30" stroke-width="1.3" stroke-linejoin="round"/><circle cx="42.40" cy="175.40" r="1.85" fill="#77AC30"/><circle cx="46.84" cy="140.28" r="1.85" fill="#77AC30"/><circle cx="51.28" cy="122.09" r="1.85" fill="#77AC30"/><circle cx="55.72" cy="107.97" r="1.85" fill="#77AC30"/><circle cx="60.16" cy="97.34" r="1.85" fill="#77AC30"/><circle cx="64.60" cy="90.21" r="1.85" fill="#77AC30"/><circle cx="69.04" cy="82.13" r="1.85" fill="#77AC30"/><circle cx="73.48" cy="77.46" r="1.85" fill="#77AC30"/><circle cx="77.92" cy="73.56" r="1.85" fill="#77AC30"/><circle cx="82.36" cy="70.84" r="1.85" fill="#77AC30"/><circle cx="86.80" cy="68.72" r="1.85" fill="#77AC30"/><circle cx="91.24" cy="66.66" r="1.85" fill="#77AC30"/><circle cx="95.68" cy="62.72" r="1.85" fill="#77AC30"/><circle cx="100.12" cy="62.13" r="1.85" fill="#77AC30"/><circle cx="104.56" cy="59.69" r="1.85" fill="#77AC30"/><circle cx="109.00" cy="57.87" r="1.85" fill="#77AC30"/><circle cx="113.44" cy="57.59" r="1.85" fill="#77AC30"/><circle cx="117.88" cy="56.57" r="1.85" fill="#77AC30"/><circle cx="122.32" cy="54.45" r="1.85" fill="#77AC30"/><circle cx="126.76" cy="53.91" r="1.85" fill="#77AC30"/><circle cx="131.20" cy="54.06" r="1.85" fill="#77AC30"/><circle cx="135.64" cy="52.76" r="1.85" fill="#77AC30"/><circle cx="140.08" cy="51.31" r="1.85" fill="#77AC30"/><circle cx="144.52" cy="48.36" r="1.85" fill="#77AC30"/><circle cx="148.96" cy="47.17" r="1.85" fill="#77AC30"/><circle cx="153.40" cy="47.62" r="1.85" fill="#77AC30"/><circle cx="157.84" cy="45.52" r="1.85" fill="#77AC30"/><circle cx="162.28" cy="44.50" r="1.85" fill="#77AC30"/><circle cx="166.72" cy="44.48" r="1.85" fill="#77AC30"/><circle cx="171.16" cy="44.42" r="1.85" fill="#77AC30"/><circle cx="175.60" cy="43.31" r="1.85" fill="#77AC30"/><circle cx="180.04" cy="43.48" r="1.85" fill="#77AC30"/><circle cx="184.48" cy="43.03" r="1.85" fill="#77AC30"/><circle cx="188.92" cy="40.33" r="1.85" fill="#77AC30"/><circle cx="193.36" cy="40.29" r="1.85" fill="#77AC30"/><circle cx="197.80" cy="39.88" r="1.85" fill="#77AC30"/><circle cx="202.24" cy="38.38" r="1.85" fill="#77AC30"/><circle cx="206.68" cy="38.76" r="1.85" fill="#77AC30"/><circle cx="211.12" cy="37.19" r="1.85" fill="#77AC30"/><circle cx="215.56" cy="36.63" r="1.85" fill="#77AC30"/><circle cx="220.00" cy="37.24" r="1.85" fill="#77AC30"/><circle cx="224.44" cy="36.49" r="1.85" fill="#77AC30"/><circle cx="228.88" cy="35.75" r="1.85" fill="#77AC30"/><circle cx="233.32" cy="35.30" r="1.85" fill="#77AC30"/><circle cx="237.76" cy="34.07" r="1.85" fill="#77AC30"/><circle cx="242.20" cy="34.22" r="1.85" fill="#77AC30"/><circle cx="246.64" cy="33.37" r="1.85" fill="#77AC30"/><circle cx="251.08" cy="33.46" r="1.85" fill="#77AC30"/><circle cx="255.52" cy="31.34" r="1.85" fill="#77AC30"/><circle cx="259.96" cy="31.83" r="1.85" fill="#77AC30"/><polyline points="42.40,175.40 46.84,141.07 51.28,120.16 55.72,103.66 60.16,94.85 64.60,85.05 69.04,77.30 73.48,72.33 77.92,67.44 82.36,65.64 86.80,62.09 91.24,59.94 95.68,57.63 100.12,54.21 104.56,53.77 109.00,51.42 113.44,49.17 117.88,48.29 122.32,47.56 126.76,45.95 131.20,44.66 135.64,42.95 140.08,43.12 144.52,40.95 148.96,40.35 153.40,39.50 157.84,37.89 162.28,37.85 166.72,37.15 171.16,36.15 175.60,35.24 180.04,35.62 184.48,34.68 188.92,34.33 193.36,33.70 197.80,32.69 202.24,32.54 206.68,31.74 211.12,31.21 215.56,29.61 220.00,29.47 224.44,28.46 228.88,27.69 233.32,28.40 237.76,27.06 242.20,25.55 246.64,25.05 251.08,25.77 255.52,25.03 259.96,23.21" fill="none" stroke="#4DBEEE" stroke-width="1.3" stroke-linejoin="round"/><circle cx="42.40" cy="175.40" r="1.85" fill="#4DBEEE"/><circle cx="46.84" cy="141.07" r="1.85" fill="#4DBEEE"/><circle cx="51.28" cy="120.16" r="1.85" fill="#4DBEEE"/><circle cx="55.72" cy="103.66" r="1.85" fill="#4DBEEE"/><circle cx="60.16" cy="94.85" r="1.85" fill="#4DBEEE"/><circle cx="64.60" cy="85.05" r="1.85" fill="#4DBEEE"/><circle cx="69.04" cy="77.30" r="1.85" fill="#4DBEEE"/><circle cx="73.48" cy="72.33" r="1.85" fill="#4DBEEE"/><circle cx="77.92" cy="67.44" r="1.85" fill="#4DBEEE"/><circle cx="82.36" cy="65.64" r="1.85" fill="#4DBEEE"/><circle cx="86.80" cy="62.09" r="1.85" fill="#4DBEEE"/><circle cx="91.24" cy="59.94" r="1.85" fill="#4DBEEE"/><circle cx="95.68" cy="57.63" r="1.85" fill="#4DBEEE"/><circle cx="100.12" cy="54.21" r="1.85" fill="#4DBEEE"/><circle cx="104.56" cy="53.77" r="1.85" fill="#4DBEEE"/><circle cx="109.00" cy="51.42" r="1.85" fill="#4DBEEE"/><circle cx="113.44" cy="49.17" r="1.85" fill="#4DBEEE"/><circle cx="117.88" cy="48.29" r="1.85" fill="#4DBEEE"/><circle cx="122.32" cy="47.56" r="1.85" fill="#4DBEEE"/><circle cx="126.76" cy="45.95" r="1.85" fill="#4DBEEE"/><circle cx="131.20" cy="44.66" r="1.85" fill="#4DBEEE"/><circle cx="135.64" cy="42.95" r="1.85" fill="#4DBEEE"/><circle cx="140.08" cy="43.12" r="1.85" fill="#4DBEEE"/><circle cx="144.52" cy="40.95" r="1.85" fill="#4DBEEE"/><circle cx="148.96" cy="40.35" r="1.85" fill="#4DBEEE"/><circle cx="153.40" cy="39.50" r="1.85" fill="#4DBEEE"/><circle cx="157.84" cy="37.89" r="1.85" fill="#4DBEEE"/><circle cx="162.28" cy="37.85" r="1.85" fill="#4DBEEE"/><circle cx="166.72" cy="37.15" r="1.85" fill="#4DBEEE"/><circle cx="171.16" cy="36.15" r="1.85" fill="#4DBEEE"/><circle cx="175.60" cy="35.24" r="1.85" fill="#4DBEEE"/><circle cx="180.04" cy="35.62" r="1.85" fill="#4DBEEE"/><circle cx="184.48" cy="34.68" r="1.85" fill="#4DBEEE"/><circle cx="188.92" cy="34.33" r="1.85" fill="#4DBEEE"/><circle cx="193.36" cy="33.70" r="1.85" fill="#4DBEEE"/><circle cx="197.80" cy="32.69" r="1.85" fill="#4DBEEE"/><circle cx="202.24" cy="32.54" r="1.85" fill="#4DBEEE"/><circle cx="206.68" cy="31.74" r="1.85" fill="#4DBEEE"/><circle cx="211.12" cy="31.21" r="1.85" fill="#4DBEEE"/><circle cx="215.56" cy="29.61" r="1.85" fill="#4DBEEE"/><circle cx="220.00" cy="29.47" r="1.85" fill="#4DBEEE"/><circle cx="224.44" cy="28.46" r="1.85" fill="#4DBEEE"/><circle cx="228.88" cy="27.69" r="1.85" fill="#4DBEEE"/><circle cx="233.32" cy="28.40" r="1.85" fill="#4DBEEE"/><circle cx="237.76" cy="27.06" r="1.85" fill="#4DBEEE"/><circle cx="242.20" cy="25.55" r="1.85" fill="#4DBEEE"/><circle cx="246.64" cy="25.05" r="1.85" fill="#4DBEEE"/><circle cx="251.08" cy="25.77" r="1.85" fill="#4DBEEE"/><circle cx="255.52" cy="25.03" r="1.85" fill="#4DBEEE"/><circle cx="259.96" cy="23.21" r="1.85" fill="#4DBEEE"/><polyline points="42.40,175.40 46.84,149.61 51.28,132.74 55.72,112.60 60.16,97.26 64.60,87.90 69.04,78.20 73.48,73.08 77.92,65.26 82.36,61.01 86.80,57.88 91.24,52.16 95.68,47.79 100.12,46.95 104.56,43.15 109.00,42.00 113.44,39.52 117.88,37.08 122.32,36.02 126.76,36.02 131.20,34.08 135.64,32.98 140.08,32.43 144.52,31.81 148.96,30.64 153.40,29.22 157.84,30.22 162.28,28.68 166.72,28.47 171.16,28.90 175.60,27.81 180.04,26.77 184.48,26.56 188.92,24.99 193.36,21.06 197.80,21.17 202.24,20.50 206.68,22.00 211.12,21.38 215.56,21.55 220.00,19.74 224.44,20.49 228.88,20.49 233.32,19.61 237.76,18.32 242.20,18.23 246.64,19.11 251.08,18.50 255.52,15.29 259.96,14.86" fill="none" stroke="#A2142F" stroke-width="1.3" stroke-linejoin="round"/><circle cx="42.40" cy="175.40" r="1.85" fill="#A2142F"/><circle cx="46.84" cy="149.61" r="1.85" fill="#A2142F"/><circle cx="51.28" cy="132.74" r="1.85" fill="#A2142F"/><circle cx="55.72" cy="112.60" r="1.85" fill="#A2142F"/><circle cx="60.16" cy="97.26" r="1.85" fill="#A2142F"/><circle cx="64.60" cy="87.90" r="1.85" fill="#A2142F"/><circle cx="69.04" cy="78.20" r="1.85" fill="#A2142F"/><circle cx="73.48" cy="73.08" r="1.85" fill="#A2142F"/><circle cx="77.92" cy="65.26" r="1.85" fill="#A2142F"/><circle cx="82.36" cy="61.01" r="1.85" fill="#A2142F"/><circle cx="86.80" cy="57.88" r="1.85" fill="#A2142F"/><circle cx="91.24" cy="52.16" r="1.85" fill="#A2142F"/><circle cx="95.68" cy="47.79" r="1.85" fill="#A2142F"/><circle cx="100.12" cy="46.95" r="1.85" fill="#A2142F"/><circle cx="104.56" cy="43.15" r="1.85" fill="#A2142F"/><circle cx="109.00" cy="42.00" r="1.85" fill="#A2142F"/><circle cx="113.44" cy="39.52" r="1.85" fill="#A2142F"/><circle cx="117.88" cy="37.08" r="1.85" fill="#A2142F"/><circle cx="122.32" cy="36.02" r="1.85" fill="#A2142F"/><circle cx="126.76" cy="36.02" r="1.85" fill="#A2142F"/><circle cx="131.20" cy="34.08" r="1.85" fill="#A2142F"/><circle cx="135.64" cy="32.98" r="1.85" fill="#A2142F"/><circle cx="140.08" cy="32.43" r="1.85" fill="#A2142F"/><circle cx="144.52" cy="31.81" r="1.85" fill="#A2142F"/><circle cx="148.96" cy="30.64" r="1.85" fill="#A2142F"/><circle cx="153.40" cy="29.22" r="1.85" fill="#A2142F"/><circle cx="157.84" cy="30.22" r="1.85" fill="#A2142F"/><circle cx="162.28" cy="28.68" r="1.85" fill="#A2142F"/><circle cx="166.72" cy="28.47" r="1.85" fill="#A2142F"/><circle cx="171.16" cy="28.90" r="1.85" fill="#A2142F"/><circle cx="175.60" cy="27.81" r="1.85" fill="#A2142F"/><circle cx="180.04" cy="26.77" r="1.85" fill="#A2142F"/><circle cx="184.48" cy="26.56" r="1.85" fill="#A2142F"/><circle cx="188.92" cy="24.99" r="1.85" fill="#A2142F"/><circle cx="193.36" cy="21.06" r="1.85" fill="#A2142F"/><circle cx="197.80" cy="21.17" r="1.85" fill="#A2142F"/><circle cx="202.24" cy="20.50" r="1.85" fill="#A2142F"/><circle cx="206.68" cy="22.00" r="1.85" fill="#A2142F"/><circle cx="211.12" cy="21.38" r="1.85" fill="#A2142F"/><circle cx="215.56" cy="21.55" r="1.85" fill="#A2142F"/><circle cx="220.00" cy="19.74" r="1.85" fill="#A2142F"/><circle cx="224.44" cy="20.49" r="1.85" fill="#A2142F"/><circle cx="228.88" cy="20.49" r="1.85" fill="#A2142F"/><circle cx="233.32" cy="19.61" r="1.85" fill="#A2142F"/><circle cx="237.76" cy="18.32" r="1.85" fill="#A2142F"/><circle cx="242.20" cy="18.23" r="1.85" fill="#A2142F"/><circle cx="246.64" cy="19.11" r="1.85" fill="#A2142F"/><circle cx="251.08" cy="18.50" r="1.85" fill="#A2142F"/><circle cx="255.52" cy="15.29" r="1.85" fill="#A2142F"/><circle cx="259.96" cy="14.86" r="1.85" fill="#A2142F"/><rect x="304.8" y="3.2" width="221.2" height="172.20000000000002" fill="none" stroke="#4a4a4a" stroke-width="1.15"/><line x1="355.07" y1="175.4" x2="355.07" y2="172.4" stroke="#4a4a4a" stroke-width="1"/><line x1="355.07" y1="3.2" x2="355.07" y2="6.2" stroke="#4a4a4a" stroke-width="1"/><line x1="405.35" y1="175.4" x2="405.35" y2="172.4" stroke="#4a4a4a" stroke-width="1"/><line x1="405.35" y1="3.2" x2="405.35" y2="6.2" stroke="#4a4a4a" stroke-width="1"/><line x1="455.62" y1="175.4" x2="455.62" y2="172.4" stroke="#4a4a4a" stroke-width="1"/><line x1="455.62" y1="3.2" x2="455.62" y2="6.2" stroke="#4a4a4a" stroke-width="1"/><line x1="505.89" y1="175.4" x2="505.89" y2="172.4" stroke="#4a4a4a" stroke-width="1"/><line x1="505.89" y1="3.2" x2="505.89" y2="6.2" stroke="#4a4a4a" stroke-width="1"/><line x1="304.8" y1="150.80" x2="307.8" y2="150.80" stroke="#4a4a4a" stroke-width="1"/><line x1="526.0" y1="150.80" x2="523.0" y2="150.80" stroke="#4a4a4a" stroke-width="1"/><line x1="304.8" y1="126.20" x2="307.8" y2="126.20" stroke="#4a4a4a" stroke-width="1"/><line x1="526.0" y1="126.20" x2="523.0" y2="126.20" stroke="#4a4a4a" stroke-width="1"/><line x1="304.8" y1="101.60" x2="307.8" y2="101.60" stroke="#4a4a4a" stroke-width="1"/><line x1="526.0" y1="101.60" x2="523.0" y2="101.60" stroke="#4a4a4a" stroke-width="1"/><line x1="304.8" y1="77.00" x2="307.8" y2="77.00" stroke="#4a4a4a" stroke-width="1"/><line x1="526.0" y1="77.00" x2="523.0" y2="77.00" stroke="#4a4a4a" stroke-width="1"/><line x1="304.8" y1="52.40" x2="307.8" y2="52.40" stroke="#4a4a4a" stroke-width="1"/><line x1="526.0" y1="52.40" x2="523.0" y2="52.40" stroke="#4a4a4a" stroke-width="1"/><line x1="304.8" y1="27.80" x2="307.8" y2="27.80" stroke="#4a4a4a" stroke-width="1"/><line x1="526.0" y1="27.80" x2="523.0" y2="27.80" stroke="#4a4a4a" stroke-width="1"/><polyline points="304.80,175.40 309.22,123.74 313.65,115.13 318.07,108.24 322.50,104.80 326.92,100.67 331.34,97.57 335.77,99.12 340.19,105.66 344.62,98.08 349.04,93.09 353.46,94.64 357.89,94.12 362.31,85.86 366.74,96.88 371.16,89.30 375.58,89.99 380.01,86.20 384.43,83.27 388.86,86.72 393.28,88.59 397.70,87.83 402.13,88.32 406.55,88.17 410.98,88.49 415.40,86.84 419.82,89.64 424.25,82.93 428.67,87.16 433.10,93.61 437.52,91.58 441.94,87.75 446.37,86.20 450.79,89.75 455.22,89.58 459.64,90.96 464.06,91.19 468.49,86.93 472.91,89.98 477.34,86.73 481.76,87.75 486.18,85.70 490.61,82.41 495.03,91.19 499.46,90.71 503.88,93.09 508.30,86.42 512.73,87.07 517.15,88.27 521.58,85.86" fill="none" stroke="#0072BD" stroke-width="1.3" stroke-linejoin="round"/><circle cx="304.80" cy="175.40" r="1.85" fill="#0072BD"/><circle cx="309.22" cy="123.74" r="1.85" fill="#0072BD"/><circle cx="313.65" cy="115.13" r="1.85" fill="#0072BD"/><circle cx="318.07" cy="108.24" r="1.85" fill="#0072BD"/><circle cx="322.50" cy="104.80" r="1.85" fill="#0072BD"/><circle cx="326.92" cy="100.67" r="1.85" fill="#0072BD"/><circle cx="331.34" cy="97.57" r="1.85" fill="#0072BD"/><circle cx="335.77" cy="99.12" r="1.85" fill="#0072BD"/><circle cx="340.19" cy="105.66" r="1.85" fill="#0072BD"/><circle cx="344.62" cy="98.08" r="1.85" fill="#0072BD"/><circle cx="349.04" cy="93.09" r="1.85" fill="#0072BD"/><circle cx="353.46" cy="94.64" r="1.85" fill="#0072BD"/><circle cx="357.89" cy="94.12" r="1.85" fill="#0072BD"/><circle cx="362.31" cy="85.86" r="1.85" fill="#0072BD"/><circle cx="366.74" cy="96.88" r="1.85" fill="#0072BD"/><circle cx="371.16" cy="89.30" r="1.85" fill="#0072BD"/><circle cx="375.58" cy="89.99" r="1.85" fill="#0072BD"/><circle cx="380.01" cy="86.20" r="1.85" fill="#0072BD"/><circle cx="384.43" cy="83.27" r="1.85" fill="#0072BD"/><circle cx="388.86" cy="86.72" r="1.85" fill="#0072BD"/><circle cx="393.28" cy="88.59" r="1.85" fill="#0072BD"/><circle cx="397.70" cy="87.83" r="1.85" fill="#0072BD"/><circle cx="402.13" cy="88.32" r="1.85" fill="#0072BD"/><circle cx="406.55" cy="88.17" r="1.85" fill="#0072BD"/><circle cx="410.98" cy="88.49" r="1.85" fill="#0072BD"/><circle cx="415.40" cy="86.84" r="1.85" fill="#0072BD"/><circle cx="419.82" cy="89.64" r="1.85" fill="#0072BD"/><circle cx="424.25" cy="82.93" r="1.85" fill="#0072BD"/><circle cx="428.67" cy="87.16" r="1.85" fill="#0072BD"/><circle cx="433.10" cy="93.61" r="1.85" fill="#0072BD"/><circle cx="437.52" cy="91.58" r="1.85" fill="#0072BD"/><circle cx="441.94" cy="87.75" r="1.85" fill="#0072BD"/><circle cx="446.37" cy="86.20" r="1.85" fill="#0072BD"/><circle cx="450.79" cy="89.75" r="1.85" fill="#0072BD"/><circle cx="455.22" cy="89.58" r="1.85" fill="#0072BD"/><circle cx="459.64" cy="90.96" r="1.85" fill="#0072BD"/><circle cx="464.06" cy="91.19" r="1.85" fill="#0072BD"/><circle cx="468.49" cy="86.93" r="1.85" fill="#0072BD"/><circle cx="472.91" cy="89.98" r="1.85" fill="#0072BD"/><circle cx="477.34" cy="86.73" r="1.85" fill="#0072BD"/><circle cx="481.76" cy="87.75" r="1.85" fill="#0072BD"/><circle cx="486.18" cy="85.70" r="1.85" fill="#0072BD"/><circle cx="490.61" cy="82.41" r="1.85" fill="#0072BD"/><circle cx="495.03" cy="91.19" r="1.85" fill="#0072BD"/><circle cx="499.46" cy="90.71" r="1.85" fill="#0072BD"/><circle cx="503.88" cy="93.09" r="1.85" fill="#0072BD"/><circle cx="508.30" cy="86.42" r="1.85" fill="#0072BD"/><circle cx="512.73" cy="87.07" r="1.85" fill="#0072BD"/><circle cx="517.15" cy="88.27" r="1.85" fill="#0072BD"/><circle cx="521.58" cy="85.86" r="1.85" fill="#0072BD"/><polyline points="304.80,175.40 309.22,134.07 313.65,118.57 318.07,110.65 322.50,106.00 326.92,104.45 331.34,99.63 335.77,91.54 340.19,84.99 344.62,88.96 349.04,85.34 353.46,89.30 357.89,86.89 362.31,84.99 366.74,82.41 371.16,83.45 375.58,93.43 380.01,84.99 384.43,86.89 388.86,87.75 393.28,92.06 397.70,89.30 402.13,82.93 406.55,98.43 410.98,92.57 415.40,88.44 419.82,89.30 424.25,86.20 428.67,88.61 433.10,91.02 437.52,97.39 441.94,90.16 446.37,90.16 450.79,90.68 455.22,87.23 459.64,87.75 464.06,91.02 468.49,93.61 472.91,92.06 477.34,91.02 481.76,92.74 486.18,87.23 490.61,87.23 495.03,83.45 499.46,90.16 503.88,87.23 508.30,90.16 512.73,90.16 517.15,91.02 521.58,87.75" fill="none" stroke="#D95319" stroke-width="1.3" stroke-linejoin="round"/><circle cx="304.80" cy="175.40" r="1.85" fill="#D95319"/><circle cx="309.22" cy="134.07" r="1.85" fill="#D95319"/><circle cx="313.65" cy="118.57" r="1.85" fill="#D95319"/><circle cx="318.07" cy="110.65" r="1.85" fill="#D95319"/><circle cx="322.50" cy="106.00" r="1.85" fill="#D95319"/><circle cx="326.92" cy="104.45" r="1.85" fill="#D95319"/><circle cx="331.34" cy="99.63" r="1.85" fill="#D95319"/><circle cx="335.77" cy="91.54" r="1.85" fill="#D95319"/><circle cx="340.19" cy="84.99" r="1.85" fill="#D95319"/><circle cx="344.62" cy="88.96" r="1.85" fill="#D95319"/><circle cx="349.04" cy="85.34" r="1.85" fill="#D95319"/><circle cx="353.46" cy="89.30" r="1.85" fill="#D95319"/><circle cx="357.89" cy="86.89" r="1.85" fill="#D95319"/><circle cx="362.31" cy="84.99" r="1.85" fill="#D95319"/><circle cx="366.74" cy="82.41" r="1.85" fill="#D95319"/><circle cx="371.16" cy="83.45" r="1.85" fill="#D95319"/><circle cx="375.58" cy="93.43" r="1.85" fill="#D95319"/><circle cx="380.01" cy="84.99" r="1.85" fill="#D95319"/><circle cx="384.43" cy="86.89" r="1.85" fill="#D95319"/><circle cx="388.86" cy="87.75" r="1.85" fill="#D95319"/><circle cx="393.28" cy="92.06" r="1.85" fill="#D95319"/><circle cx="397.70" cy="89.30" r="1.85" fill="#D95319"/><circle cx="402.13" cy="82.93" r="1.85" fill="#D95319"/><circle cx="406.55" cy="98.43" r="1.85" fill="#D95319"/><circle cx="410.98" cy="92.57" r="1.85" fill="#D95319"/><circle cx="415.40" cy="88.44" r="1.85" fill="#D95319"/><circle cx="419.82" cy="89.30" r="1.85" fill="#D95319"/><circle cx="424.25" cy="86.20" r="1.85" fill="#D95319"/><circle cx="428.67" cy="88.61" r="1.85" fill="#D95319"/><circle cx="433.10" cy="91.02" r="1.85" fill="#D95319"/><circle cx="437.52" cy="97.39" r="1.85" fill="#D95319"/><circle cx="441.94" cy="90.16" r="1.85" fill="#D95319"/><circle cx="446.37" cy="90.16" r="1.85" fill="#D95319"/><circle cx="450.79" cy="90.68" r="1.85" fill="#D95319"/><circle cx="455.22" cy="87.23" r="1.85" fill="#D95319"/><circle cx="459.64" cy="87.75" r="1.85" fill="#D95319"/><circle cx="464.06" cy="91.02" r="1.85" fill="#D95319"/><circle cx="468.49" cy="93.61" r="1.85" fill="#D95319"/><circle cx="472.91" cy="92.06" r="1.85" fill="#D95319"/><circle cx="477.34" cy="91.02" r="1.85" fill="#D95319"/><circle cx="481.76" cy="92.74" r="1.85" fill="#D95319"/><circle cx="486.18" cy="87.23" r="1.85" fill="#D95319"/><circle cx="490.61" cy="87.23" r="1.85" fill="#D95319"/><circle cx="495.03" cy="83.45" r="1.85" fill="#D95319"/><circle cx="499.46" cy="90.16" r="1.85" fill="#D95319"/><circle cx="503.88" cy="87.23" r="1.85" fill="#D95319"/><circle cx="508.30" cy="90.16" r="1.85" fill="#D95319"/><circle cx="512.73" cy="90.16" r="1.85" fill="#D95319"/><circle cx="517.15" cy="91.02" r="1.85" fill="#D95319"/><circle cx="521.58" cy="87.75" r="1.85" fill="#D95319"/><polyline points="304.80,175.40 309.22,139.75 313.65,118.57 318.07,99.12 322.50,94.12 326.92,83.10 331.34,89.47 335.77,91.54 340.19,101.53 344.62,81.55 349.04,85.34 353.46,92.23 357.89,86.89 362.31,86.89 366.74,82.41 371.16,94.64 375.58,85.86 380.01,87.75 384.43,88.96 388.86,83.79 393.28,87.58 397.70,80.00 402.13,85.86 406.55,87.75 410.98,83.27 415.40,87.75 419.82,82.93 424.25,94.12 428.67,91.02 433.10,90.16 437.52,89.30 441.94,90.68 446.37,92.06 450.79,94.47 455.22,92.06 459.64,94.47 464.06,98.94 468.49,96.19 472.91,93.61 477.34,92.06 481.76,95.33 486.18,93.61 490.61,94.12 495.03,96.19 499.46,94.81 503.88,95.84 508.30,94.47 512.73,95.33 517.15,96.53 521.58,94.12" fill="none" stroke="#EDB120" stroke-width="1.3" stroke-linejoin="round"/><circle cx="304.80" cy="175.40" r="1.85" fill="#EDB120"/><circle cx="309.22" cy="139.75" r="1.85" fill="#EDB120"/><circle cx="313.65" cy="118.57" r="1.85" fill="#EDB120"/><circle cx="318.07" cy="99.12" r="1.85" fill="#EDB120"/><circle cx="322.50" cy="94.12" r="1.85" fill="#EDB120"/><circle cx="326.92" cy="83.10" r="1.85" fill="#EDB120"/><circle cx="331.34" cy="89.47" r="1.85" fill="#EDB120"/><circle cx="335.77" cy="91.54" r="1.85" fill="#EDB120"/><circle cx="340.19" cy="101.53" r="1.85" fill="#EDB120"/><circle cx="344.62" cy="81.55" r="1.85" fill="#EDB120"/><circle cx="349.04" cy="85.34" r="1.85" fill="#EDB120"/><circle cx="353.46" cy="92.23" r="1.85" fill="#EDB120"/><circle cx="357.89" cy="86.89" r="1.85" fill="#EDB120"/><circle cx="362.31" cy="86.89" r="1.85" fill="#EDB120"/><circle cx="366.74" cy="82.41" r="1.85" fill="#EDB120"/><circle cx="371.16" cy="94.64" r="1.85" fill="#EDB120"/><circle cx="375.58" cy="85.86" r="1.85" fill="#EDB120"/><circle cx="380.01" cy="87.75" r="1.85" fill="#EDB120"/><circle cx="384.43" cy="88.96" r="1.85" fill="#EDB120"/><circle cx="388.86" cy="83.79" r="1.85" fill="#EDB120"/><circle cx="393.28" cy="87.58" r="1.85" fill="#EDB120"/><circle cx="397.70" cy="80.00" r="1.85" fill="#EDB120"/><circle cx="402.13" cy="85.86" r="1.85" fill="#EDB120"/><circle cx="406.55" cy="87.75" r="1.85" fill="#EDB120"/><circle cx="410.98" cy="83.27" r="1.85" fill="#EDB120"/><circle cx="415.40" cy="87.75" r="1.85" fill="#EDB120"/><circle cx="419.82" cy="82.93" r="1.85" fill="#EDB120"/><circle cx="424.25" cy="94.12" r="1.85" fill="#EDB120"/><circle cx="428.67" cy="91.02" r="1.85" fill="#EDB120"/><circle cx="433.10" cy="90.16" r="1.85" fill="#EDB120"/><circle cx="437.52" cy="89.30" r="1.85" fill="#EDB120"/><circle cx="441.94" cy="90.68" r="1.85" fill="#EDB120"/><circle cx="446.37" cy="92.06" r="1.85" fill="#EDB120"/><circle cx="450.79" cy="94.47" r="1.85" fill="#EDB120"/><circle cx="455.22" cy="92.06" r="1.85" fill="#EDB120"/><circle cx="459.64" cy="94.47" r="1.85" fill="#EDB120"/><circle cx="464.06" cy="98.94" r="1.85" fill="#EDB120"/><circle cx="468.49" cy="96.19" r="1.85" fill="#EDB120"/><circle cx="472.91" cy="93.61" r="1.85" fill="#EDB120"/><circle cx="477.34" cy="92.06" r="1.85" fill="#EDB120"/><circle cx="481.76" cy="95.33" r="1.85" fill="#EDB120"/><circle cx="486.18" cy="93.61" r="1.85" fill="#EDB120"/><circle cx="490.61" cy="94.12" r="1.85" fill="#EDB120"/><circle cx="495.03" cy="96.19" r="1.85" fill="#EDB120"/><circle cx="499.46" cy="94.81" r="1.85" fill="#EDB120"/><circle cx="503.88" cy="95.84" r="1.85" fill="#EDB120"/><circle cx="508.30" cy="94.47" r="1.85" fill="#EDB120"/><circle cx="512.73" cy="95.33" r="1.85" fill="#EDB120"/><circle cx="517.15" cy="96.53" r="1.85" fill="#EDB120"/><circle cx="521.58" cy="94.12" r="1.85" fill="#EDB120"/><polyline points="304.80,175.40 309.22,118.57 313.65,97.91 318.07,80.69 322.50,74.66 326.92,73.63 331.34,84.31 335.77,69.67 340.19,75.52 344.62,77.42 349.04,81.21 353.46,83.10 357.89,82.41 362.31,80.00 366.74,79.66 371.16,69.67 375.58,78.97 380.01,77.07 384.43,86.20 388.86,87.75 393.28,87.23 397.70,85.86 402.13,87.23 406.55,92.06 410.98,90.16 415.40,93.61 419.82,91.02 424.25,92.74 428.67,90.16 433.10,96.53 437.52,91.19 441.94,94.47 446.37,96.53 450.79,93.61 455.22,94.12 459.64,100.84 464.06,101.87 468.49,101.87 472.91,103.08 477.34,97.39 481.76,101.87 486.18,103.94 490.61,104.80 495.03,99.46 499.46,100.49 503.88,102.90 508.30,105.31 512.73,106.35 517.15,105.83 521.58,103.42" fill="none" stroke="#7E2F8E" stroke-width="1.3" stroke-linejoin="round"/><circle cx="304.80" cy="175.40" r="1.85" fill="#7E2F8E"/><circle cx="309.22" cy="118.57" r="1.85" fill="#7E2F8E"/><circle cx="313.65" cy="97.91" r="1.85" fill="#7E2F8E"/><circle cx="318.07" cy="80.69" r="1.85" fill="#7E2F8E"/><circle cx="322.50" cy="74.66" r="1.85" fill="#7E2F8E"/><circle cx="326.92" cy="73.63" r="1.85" fill="#7E2F8E"/><circle cx="331.34" cy="84.31" r="1.85" fill="#7E2F8E"/><circle cx="335.77" cy="69.67" r="1.85" fill="#7E2F8E"/><circle cx="340.19" cy="75.52" r="1.85" fill="#7E2F8E"/><circle cx="344.62" cy="77.42" r="1.85" fill="#7E2F8E"/><circle cx="349.04" cy="81.21" r="1.85" fill="#7E2F8E"/><circle cx="353.46" cy="83.10" r="1.85" fill="#7E2F8E"/><circle cx="357.89" cy="82.41" r="1.85" fill="#7E2F8E"/><circle cx="362.31" cy="80.00" r="1.85" fill="#7E2F8E"/><circle cx="366.74" cy="79.66" r="1.85" fill="#7E2F8E"/><circle cx="371.16" cy="69.67" r="1.85" fill="#7E2F8E"/><circle cx="375.58" cy="78.97" r="1.85" fill="#7E2F8E"/><circle cx="380.01" cy="77.07" r="1.85" fill="#7E2F8E"/><circle cx="384.43" cy="86.20" r="1.85" fill="#7E2F8E"/><circle cx="388.86" cy="87.75" r="1.85" fill="#7E2F8E"/><circle cx="393.28" cy="87.23" r="1.85" fill="#7E2F8E"/><circle cx="397.70" cy="85.86" r="1.85" fill="#7E2F8E"/><circle cx="402.13" cy="87.23" r="1.85" fill="#7E2F8E"/><circle cx="406.55" cy="92.06" r="1.85" fill="#7E2F8E"/><circle cx="410.98" cy="90.16" r="1.85" fill="#7E2F8E"/><circle cx="415.40" cy="93.61" r="1.85" fill="#7E2F8E"/><circle cx="419.82" cy="91.02" r="1.85" fill="#7E2F8E"/><circle cx="424.25" cy="92.74" r="1.85" fill="#7E2F8E"/><circle cx="428.67" cy="90.16" r="1.85" fill="#7E2F8E"/><circle cx="433.10" cy="96.53" r="1.85" fill="#7E2F8E"/><circle cx="437.52" cy="91.19" r="1.85" fill="#7E2F8E"/><circle cx="441.94" cy="94.47" r="1.85" fill="#7E2F8E"/><circle cx="446.37" cy="96.53" r="1.85" fill="#7E2F8E"/><circle cx="450.79" cy="93.61" r="1.85" fill="#7E2F8E"/><circle cx="455.22" cy="94.12" r="1.85" fill="#7E2F8E"/><circle cx="459.64" cy="100.84" r="1.85" fill="#7E2F8E"/><circle cx="464.06" cy="101.87" r="1.85" fill="#7E2F8E"/><circle cx="468.49" cy="101.87" r="1.85" fill="#7E2F8E"/><circle cx="472.91" cy="103.08" r="1.85" fill="#7E2F8E"/><circle cx="477.34" cy="97.39" r="1.85" fill="#7E2F8E"/><circle cx="481.76" cy="101.87" r="1.85" fill="#7E2F8E"/><circle cx="486.18" cy="103.94" r="1.85" fill="#7E2F8E"/><circle cx="490.61" cy="104.80" r="1.85" fill="#7E2F8E"/><circle cx="495.03" cy="99.46" r="1.85" fill="#7E2F8E"/><circle cx="499.46" cy="100.49" r="1.85" fill="#7E2F8E"/><circle cx="503.88" cy="102.90" r="1.85" fill="#7E2F8E"/><circle cx="508.30" cy="105.31" r="1.85" fill="#7E2F8E"/><circle cx="512.73" cy="106.35" r="1.85" fill="#7E2F8E"/><circle cx="517.15" cy="105.83" r="1.85" fill="#7E2F8E"/><circle cx="521.58" cy="103.42" r="1.85" fill="#7E2F8E"/><polyline points="304.80,175.40 309.22,123.74 313.65,106.52 318.07,94.47 322.50,89.30 326.92,78.28 331.34,72.42 335.77,70.36 340.19,66.23 344.62,62.61 349.04,61.75 353.46,60.03 357.89,63.99 362.31,72.42 366.74,72.42 371.16,73.63 375.58,79.31 380.01,68.98 384.43,80.00 388.86,80.35 393.28,77.42 397.70,75.01 402.13,77.42 406.55,83.27 410.98,79.48 415.40,83.79 419.82,91.19 424.25,89.64 428.67,94.12 433.10,86.72 437.52,91.02 441.94,94.98 446.37,96.02 450.79,97.39 455.22,96.53 459.64,91.19 464.06,94.47 468.49,97.91 472.91,96.02 477.34,98.77 481.76,98.94 486.18,99.98 490.61,95.50 495.03,97.05 499.46,97.57 503.88,98.77 508.30,100.49 512.73,99.46 517.15,98.94 521.58,98.94" fill="none" stroke="#77AC30" stroke-width="1.3" stroke-linejoin="round"/><circle cx="304.80" cy="175.40" r="1.85" fill="#77AC30"/><circle cx="309.22" cy="123.74" r="1.85" fill="#77AC30"/><circle cx="313.65" cy="106.52" r="1.85" fill="#77AC30"/><circle cx="318.07" cy="94.47" r="1.85" fill="#77AC30"/><circle cx="322.50" cy="89.30" r="1.85" fill="#77AC30"/><circle cx="326.92" cy="78.28" r="1.85" fill="#77AC30"/><circle cx="331.34" cy="72.42" r="1.85" fill="#77AC30"/><circle cx="335.77" cy="70.36" r="1.85" fill="#77AC30"/><circle cx="340.19" cy="66.23" r="1.85" fill="#77AC30"/><circle cx="344.62" cy="62.61" r="1.85" fill="#77AC30"/><circle cx="349.04" cy="61.75" r="1.85" fill="#77AC30"/><circle cx="353.46" cy="60.03" r="1.85" fill="#77AC30"/><circle cx="357.89" cy="63.99" r="1.85" fill="#77AC30"/><circle cx="362.31" cy="72.42" r="1.85" fill="#77AC30"/><circle cx="366.74" cy="72.42" r="1.85" fill="#77AC30"/><circle cx="371.16" cy="73.63" r="1.85" fill="#77AC30"/><circle cx="375.58" cy="79.31" r="1.85" fill="#77AC30"/><circle cx="380.01" cy="68.98" r="1.85" fill="#77AC30"/><circle cx="384.43" cy="80.00" r="1.85" fill="#77AC30"/><circle cx="388.86" cy="80.35" r="1.85" fill="#77AC30"/><circle cx="393.28" cy="77.42" r="1.85" fill="#77AC30"/><circle cx="397.70" cy="75.01" r="1.85" fill="#77AC30"/><circle cx="402.13" cy="77.42" r="1.85" fill="#77AC30"/><circle cx="406.55" cy="83.27" r="1.85" fill="#77AC30"/><circle cx="410.98" cy="79.48" r="1.85" fill="#77AC30"/><circle cx="415.40" cy="83.79" r="1.85" fill="#77AC30"/><circle cx="419.82" cy="91.19" r="1.85" fill="#77AC30"/><circle cx="424.25" cy="89.64" r="1.85" fill="#77AC30"/><circle cx="428.67" cy="94.12" r="1.85" fill="#77AC30"/><circle cx="433.10" cy="86.72" r="1.85" fill="#77AC30"/><circle cx="437.52" cy="91.02" r="1.85" fill="#77AC30"/><circle cx="441.94" cy="94.98" r="1.85" fill="#77AC30"/><circle cx="446.37" cy="96.02" r="1.85" fill="#77AC30"/><circle cx="450.79" cy="97.39" r="1.85" fill="#77AC30"/><circle cx="455.22" cy="96.53" r="1.85" fill="#77AC30"/><circle cx="459.64" cy="91.19" r="1.85" fill="#77AC30"/><circle cx="464.06" cy="94.47" r="1.85" fill="#77AC30"/><circle cx="468.49" cy="97.91" r="1.85" fill="#77AC30"/><circle cx="472.91" cy="96.02" r="1.85" fill="#77AC30"/><circle cx="477.34" cy="98.77" r="1.85" fill="#77AC30"/><circle cx="481.76" cy="98.94" r="1.85" fill="#77AC30"/><circle cx="486.18" cy="99.98" r="1.85" fill="#77AC30"/><circle cx="490.61" cy="95.50" r="1.85" fill="#77AC30"/><circle cx="495.03" cy="97.05" r="1.85" fill="#77AC30"/><circle cx="499.46" cy="97.57" r="1.85" fill="#77AC30"/><circle cx="503.88" cy="98.77" r="1.85" fill="#77AC30"/><circle cx="508.30" cy="100.49" r="1.85" fill="#77AC30"/><circle cx="512.73" cy="99.46" r="1.85" fill="#77AC30"/><circle cx="517.15" cy="98.94" r="1.85" fill="#77AC30"/><circle cx="521.58" cy="98.94" r="1.85" fill="#77AC30"/><polyline points="304.80,175.40 309.22,116.85 313.65,91.02 318.07,76.39 322.50,72.08 326.92,64.33 331.34,49.69 335.77,49.52 340.19,59.51 344.62,51.93 349.04,54.17 353.46,40.91 357.89,49.52 362.31,40.05 366.74,59.16 371.16,66.40 375.58,45.39 380.01,66.40 384.43,62.61 388.86,59.51 393.28,62.61 397.70,68.64 402.13,65.19 406.55,56.07 410.98,74.66 415.40,66.05 419.82,73.11 424.25,76.04 428.67,78.97 433.10,77.42 437.52,79.48 441.94,73.11 446.37,83.79 450.79,80.35 455.22,82.41 459.64,78.45 464.06,89.30 468.49,85.86 472.91,85.86 477.34,88.61 481.76,91.02 486.18,91.19 490.61,94.47 495.03,96.02 499.46,94.47 503.88,92.74 508.30,97.57 512.73,94.64 517.15,93.61 521.58,91.19" fill="none" stroke="#4DBEEE" stroke-width="1.3" stroke-linejoin="round"/><circle cx="304.80" cy="175.40" r="1.85" fill="#4DBEEE"/><circle cx="309.22" cy="116.85" r="1.85" fill="#4DBEEE"/><circle cx="313.65" cy="91.02" r="1.85" fill="#4DBEEE"/><circle cx="318.07" cy="76.39" r="1.85" fill="#4DBEEE"/><circle cx="322.50" cy="72.08" r="1.85" fill="#4DBEEE"/><circle cx="326.92" cy="64.33" r="1.85" fill="#4DBEEE"/><circle cx="331.34" cy="49.69" r="1.85" fill="#4DBEEE"/><circle cx="335.77" cy="49.52" r="1.85" fill="#4DBEEE"/><circle cx="340.19" cy="59.51" r="1.85" fill="#4DBEEE"/><circle cx="344.62" cy="51.93" r="1.85" fill="#4DBEEE"/><circle cx="349.04" cy="54.17" r="1.85" fill="#4DBEEE"/><circle cx="353.46" cy="40.91" r="1.85" fill="#4DBEEE"/><circle cx="357.89" cy="49.52" r="1.85" fill="#4DBEEE"/><circle cx="362.31" cy="40.05" r="1.85" fill="#4DBEEE"/><circle cx="366.74" cy="59.16" r="1.85" fill="#4DBEEE"/><circle cx="371.16" cy="66.40" r="1.85" fill="#4DBEEE"/><circle cx="375.58" cy="45.39" r="1.85" fill="#4DBEEE"/><circle cx="380.01" cy="66.40" r="1.85" fill="#4DBEEE"/><circle cx="384.43" cy="62.61" r="1.85" fill="#4DBEEE"/><circle cx="388.86" cy="59.51" r="1.85" fill="#4DBEEE"/><circle cx="393.28" cy="62.61" r="1.85" fill="#4DBEEE"/><circle cx="397.70" cy="68.64" r="1.85" fill="#4DBEEE"/><circle cx="402.13" cy="65.19" r="1.85" fill="#4DBEEE"/><circle cx="406.55" cy="56.07" r="1.85" fill="#4DBEEE"/><circle cx="410.98" cy="74.66" r="1.85" fill="#4DBEEE"/><circle cx="415.40" cy="66.05" r="1.85" fill="#4DBEEE"/><circle cx="419.82" cy="73.11" r="1.85" fill="#4DBEEE"/><circle cx="424.25" cy="76.04" r="1.85" fill="#4DBEEE"/><circle cx="428.67" cy="78.97" r="1.85" fill="#4DBEEE"/><circle cx="433.10" cy="77.42" r="1.85" fill="#4DBEEE"/><circle cx="437.52" cy="79.48" r="1.85" fill="#4DBEEE"/><circle cx="441.94" cy="73.11" r="1.85" fill="#4DBEEE"/><circle cx="446.37" cy="83.79" r="1.85" fill="#4DBEEE"/><circle cx="450.79" cy="80.35" r="1.85" fill="#4DBEEE"/><circle cx="455.22" cy="82.41" r="1.85" fill="#4DBEEE"/><circle cx="459.64" cy="78.45" r="1.85" fill="#4DBEEE"/><circle cx="464.06" cy="89.30" r="1.85" fill="#4DBEEE"/><circle cx="468.49" cy="85.86" r="1.85" fill="#4DBEEE"/><circle cx="472.91" cy="85.86" r="1.85" fill="#4DBEEE"/><circle cx="477.34" cy="88.61" r="1.85" fill="#4DBEEE"/><circle cx="481.76" cy="91.02" r="1.85" fill="#4DBEEE"/><circle cx="486.18" cy="91.19" r="1.85" fill="#4DBEEE"/><circle cx="490.61" cy="94.47" r="1.85" fill="#4DBEEE"/><circle cx="495.03" cy="96.02" r="1.85" fill="#4DBEEE"/><circle cx="499.46" cy="94.47" r="1.85" fill="#4DBEEE"/><circle cx="503.88" cy="92.74" r="1.85" fill="#4DBEEE"/><circle cx="508.30" cy="97.57" r="1.85" fill="#4DBEEE"/><circle cx="512.73" cy="94.64" r="1.85" fill="#4DBEEE"/><circle cx="517.15" cy="93.61" r="1.85" fill="#4DBEEE"/><circle cx="521.58" cy="91.19" r="1.85" fill="#4DBEEE"/><polyline points="304.80,175.40 309.22,134.07 313.65,115.13 318.07,87.58 322.50,57.10 326.92,48.49 331.34,47.63 335.77,49.01 340.19,45.39 344.62,21.80 349.04,26.62 353.46,33.16 357.89,33.85 362.31,26.96 366.74,29.37 371.16,38.33 375.58,37.64 380.01,34.71 384.43,36.61 388.86,30.92 393.28,41.94 397.70,37.64 402.13,32.65 406.55,43.32 410.98,32.99 415.40,46.08 419.82,54.52 424.25,42.98 428.67,51.76 433.10,54.52 437.52,40.74 441.94,52.28 446.37,54.52 450.79,59.51 455.22,59.68 459.64,57.62 464.06,55.72 468.49,66.23 472.91,57.79 477.34,60.71 481.76,58.48 486.18,70.01 490.61,70.36 495.03,62.78 499.46,72.77 503.88,70.70 508.30,63.81 512.73,69.15 517.15,68.12 521.58,68.46" fill="none" stroke="#A2142F" stroke-width="1.3" stroke-linejoin="round"/><circle cx="304.80" cy="175.40" r="1.85" fill="#A2142F"/><circle cx="309.22" cy="134.07" r="1.85" fill="#A2142F"/><circle cx="313.65" cy="115.13" r="1.85" fill="#A2142F"/><circle cx="318.07" cy="87.58" r="1.85" fill="#A2142F"/><circle cx="322.50" cy="57.10" r="1.85" fill="#A2142F"/><circle cx="326.92" cy="48.49" r="1.85" fill="#A2142F"/><circle cx="331.34" cy="47.63" r="1.85" fill="#A2142F"/><circle cx="335.77" cy="49.01" r="1.85" fill="#A2142F"/><circle cx="340.19" cy="45.39" r="1.85" fill="#A2142F"/><circle cx="344.62" cy="21.80" r="1.85" fill="#A2142F"/><circle cx="349.04" cy="26.62" r="1.85" fill="#A2142F"/><circle cx="353.46" cy="33.16" r="1.85" fill="#A2142F"/><circle cx="357.89" cy="33.85" r="1.85" fill="#A2142F"/><circle cx="362.31" cy="26.96" r="1.85" fill="#A2142F"/><circle cx="366.74" cy="29.37" r="1.85" fill="#A2142F"/><circle cx="371.16" cy="38.33" r="1.85" fill="#A2142F"/><circle cx="375.58" cy="37.64" r="1.85" fill="#A2142F"/><circle cx="380.01" cy="34.71" r="1.85" fill="#A2142F"/><circle cx="384.43" cy="36.61" r="1.85" fill="#A2142F"/><circle cx="388.86" cy="30.92" r="1.85" fill="#A2142F"/><circle cx="393.28" cy="41.94" r="1.85" fill="#A2142F"/><circle cx="397.70" cy="37.64" r="1.85" fill="#A2142F"/><circle cx="402.13" cy="32.65" r="1.85" fill="#A2142F"/><circle cx="406.55" cy="43.32" r="1.85" fill="#A2142F"/><circle cx="410.98" cy="32.99" r="1.85" fill="#A2142F"/><circle cx="415.40" cy="46.08" r="1.85" fill="#A2142F"/><circle cx="419.82" cy="54.52" r="1.85" fill="#A2142F"/><circle cx="424.25" cy="42.98" r="1.85" fill="#A2142F"/><circle cx="428.67" cy="51.76" r="1.85" fill="#A2142F"/><circle cx="433.10" cy="54.52" r="1.85" fill="#A2142F"/><circle cx="437.52" cy="40.74" r="1.85" fill="#A2142F"/><circle cx="441.94" cy="52.28" r="1.85" fill="#A2142F"/><circle cx="446.37" cy="54.52" r="1.85" fill="#A2142F"/><circle cx="450.79" cy="59.51" r="1.85" fill="#A2142F"/><circle cx="455.22" cy="59.68" r="1.85" fill="#A2142F"/><circle cx="459.64" cy="57.62" r="1.85" fill="#A2142F"/><circle cx="464.06" cy="55.72" r="1.85" fill="#A2142F"/><circle cx="468.49" cy="66.23" r="1.85" fill="#A2142F"/><circle cx="472.91" cy="57.79" r="1.85" fill="#A2142F"/><circle cx="477.34" cy="60.71" r="1.85" fill="#A2142F"/><circle cx="481.76" cy="58.48" r="1.85" fill="#A2142F"/><circle cx="486.18" cy="70.01" r="1.85" fill="#A2142F"/><circle cx="490.61" cy="70.36" r="1.85" fill="#A2142F"/><circle cx="495.03" cy="62.78" r="1.85" fill="#A2142F"/><circle cx="499.46" cy="72.77" r="1.85" fill="#A2142F"/><circle cx="503.88" cy="70.70" r="1.85" fill="#A2142F"/><circle cx="508.30" cy="63.81" r="1.85" fill="#A2142F"/><circle cx="512.73" cy="69.15" r="1.85" fill="#A2142F"/><circle cx="517.15" cy="68.12" r="1.85" fill="#A2142F"/><circle cx="521.58" cy="68.46" r="1.85" fill="#A2142F"/><text x="42.40" y="194.20" text-anchor="middle" font-size="11.7" >0</text><text x="92.85" y="194.20" text-anchor="middle" font-size="11.7" >50</text><text x="143.31" y="194.20" text-anchor="middle" font-size="11.7" >100</text><text x="193.76" y="194.20" text-anchor="middle" font-size="11.7" >150</text><text x="244.22" y="194.20" text-anchor="middle" font-size="11.7" >200</text><text x="35.40" y="181.10" text-anchor="end" font-size="11.7" >0</text><text x="35.40" y="94.60" text-anchor="end" font-size="11.7" >0.5</text><text x="35.40" y="8.60" text-anchor="end" font-size="11.7" >1</text><text x="304.80" y="194.20" text-anchor="middle" font-size="11.7" >0</text><text x="355.07" y="194.20" text-anchor="middle" font-size="11.7" >50</text><text x="405.35" y="194.20" text-anchor="middle" font-size="11.7" >100</text><text x="455.62" y="194.20" text-anchor="middle" font-size="11.7" >150</text><text x="505.89" y="194.20" text-anchor="middle" font-size="11.7" >200</text><text x="296.80" y="175.10" text-anchor="end" font-size="11.7" >0</text><text x="296.80" y="91.70" text-anchor="end" font-size="11.7" >0.5</text><text x="296.80" y="8.80" text-anchor="end" font-size="11.7" >1</text><text x="146.90" y="210.50" text-anchor="middle" font-size="11.7" >Pulse energy (nJ)</text><text x="408.50" y="210.50" text-anchor="middle" font-size="11.7" >Pulse energy (nJ)</text><text x="51.30" y="19.40" text-anchor="start" font-size="11.7" >(a)</text><text x="313.30" y="19.40" text-anchor="start" font-size="11.7" >(b)</text><text transform="translate(10.2,105) rotate(-90)" text-anchor="middle" font-size="11.7">Luminescence intensity (Abt.Unt.)</text><text x="584.50" y="24.40" text-anchor="middle" font-size="11.7" >Pulse</text><text x="585.00" y="38.60" text-anchor="middle" font-size="11.7" >number</text><line x1="566" y1="60.10" x2="598" y2="60.10" stroke="#0072BD" stroke-width="1.3"/><circle cx="582.4" cy="60.10" r="2.1" fill="#0072BD"/><text x="600.50" y="64.30" text-anchor="start" font-size="11.7" >1</text><line x1="566" y1="77.30" x2="598" y2="77.30" stroke="#D95319" stroke-width="1.3"/><circle cx="582.4" cy="77.30" r="2.1" fill="#D95319"/><text x="600.50" y="81.50" text-anchor="start" font-size="11.7" >2</text><line x1="566" y1="94.50" x2="598" y2="94.50" stroke="#EDB120" stroke-width="1.3"/><circle cx="582.4" cy="94.50" r="2.1" fill="#EDB120"/><text x="600.50" y="98.70" text-anchor="start" font-size="11.7" >4</text><line x1="566" y1="111.70" x2="598" y2="111.70" stroke="#7E2F8E" stroke-width="1.3"/><circle cx="582.4" cy="111.70" r="2.1" fill="#7E2F8E"/><text x="600.50" y="115.90" text-anchor="start" font-size="11.7" >8</text><line x1="566" y1="128.90" x2="598" y2="128.90" stroke="#77AC30" stroke-width="1.3"/><circle cx="582.4" cy="128.90" r="2.1" fill="#77AC30"/><text x="600.50" y="133.10" text-anchor="start" font-size="11.7" >16</text><line x1="566" y1="146.10" x2="598" y2="146.10" stroke="#4DBEEE" stroke-width="1.3"/><circle cx="582.4" cy="146.10" r="2.1" fill="#4DBEEE"/><text x="600.50" y="150.30" text-anchor="start" font-size="11.7" >32</text><line x1="566" y1="163.30" x2="598" y2="163.30" stroke="#A2142F" stroke-width="1.3"/><circle cx="582.4" cy="163.30" r="2.1" fill="#A2142F"/><text x="600.50" y="167.50" text-anchor="start" font-size="11.7" >64</text><text x="60.50" y="236.00" text-anchor="middle" font-size="11.7" >13 nJ</text><text x="138.30" y="236.00" text-anchor="middle" font-size="11.7" >26 nJ</text><text x="215.30" y="236.00" text-anchor="middle" font-size="11.7" >52 nJ</text><text x="293.30" y="236.00" text-anchor="middle" font-size="11.7" >104 nJ</text><text x="370.00" y="236.00" text-anchor="middle" font-size="11.7" >208 nJ</text><text x="0.00" y="236.60" text-anchor="start" font-size="11.7" >(c)</text><text transform="translate(10.3,291.7) rotate(-90)" text-anchor="middle" font-size="11.7">64-pulse-burst</text><rect x="158.6" y="346.6" width="84.2" height="4.8" fill="url(#cbar)" stroke="#333" stroke-width="0.5"/><text x="152.70" y="353.60" text-anchor="end" font-size="11.7" >0</text><text x="248.40" y="353.60" text-anchor="start" font-size="11.7" >1</text><text x="418.40" y="237.50" text-anchor="start" font-size="11.7" >(d)</text><text x="443.10" y="344.90" text-anchor="middle" font-size="11.7" >0</text><text x="523.90" y="344.90" text-anchor="middle" font-size="11.7" >110</text><text x="608.00" y="344.90" text-anchor="middle" font-size="11.7" >220</text><text x="532.50" y="357.50" text-anchor="middle" font-size="11.7" >Pulse energy (nJ)</text>
</svg>
</body></html>
